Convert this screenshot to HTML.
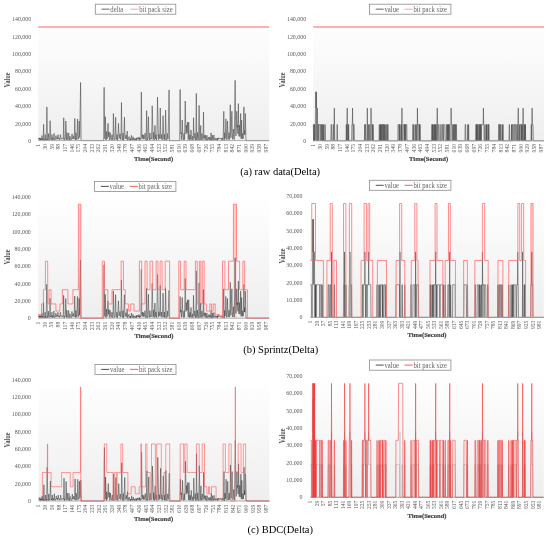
<!DOCTYPE html><html><head><meta charset="utf-8"><title>Charts</title><style>html,body{margin:0;padding:0;background:#fff;}body{width:550px;height:539px;overflow:hidden;}svg{display:block;filter:blur(0.3px);}</style></head><body><svg width="550" height="539" viewBox="0 0 550 539">
<defs><linearGradient id="pg" x1="0" y1="0" x2="0" y2="1"><stop offset="0" stop-color="#ffffff"/><stop offset="1" stop-color="#eeeeee"/></linearGradient></defs>
<rect width="550" height="539" fill="#fff"/>
<style>text{font-family:'Liberation Serif','Times New Roman',serif;} .yl{font-size:5.9px;fill:#595959;text-anchor:end;} .xl{font-size:5.6px;fill:#595959;text-anchor:end;} .at{font-size:6.3px;font-weight:bold;fill:#404040;stroke:#404040;stroke-width:0.14px;text-anchor:middle;} .lg{font-size:6.7px;fill:#666;} .av{stroke:none;fill:#505050;} .cap{font-size:10.5px;fill:#000;text-anchor:middle;}</style>
<rect x="38.20" y="19.15" width="231.00" height="121.45" fill="url(#pg)"/>
<text x="31.20" y="143.20" class="yl">0</text>
<text x="31.20" y="125.76" class="yl">20,000</text>
<text x="31.20" y="108.31" class="yl">40,000</text>
<text x="31.20" y="90.87" class="yl">60,000</text>
<text x="31.20" y="73.43" class="yl">80,000</text>
<text x="31.20" y="55.99" class="yl">100,000</text>
<text x="31.20" y="38.54" class="yl">120,000</text>
<text x="31.20" y="21.10" class="yl">140,000</text>
<text class="xl" transform="translate(40.12,144.00) rotate(-90)">1</text>
<text class="xl" transform="translate(46.81,144.00) rotate(-90)">30</text>
<text class="xl" transform="translate(53.51,144.00) rotate(-90)">59</text>
<text class="xl" transform="translate(60.21,144.00) rotate(-90)">88</text>
<text class="xl" transform="translate(66.91,144.00) rotate(-90)">117</text>
<text class="xl" transform="translate(73.61,144.00) rotate(-90)">146</text>
<text class="xl" transform="translate(80.31,144.00) rotate(-90)">175</text>
<text class="xl" transform="translate(87.01,144.00) rotate(-90)">204</text>
<text class="xl" transform="translate(93.71,144.00) rotate(-90)">233</text>
<text class="xl" transform="translate(100.41,144.00) rotate(-90)">262</text>
<text class="xl" transform="translate(107.11,144.00) rotate(-90)">291</text>
<text class="xl" transform="translate(113.80,144.00) rotate(-90)">320</text>
<text class="xl" transform="translate(120.50,144.00) rotate(-90)">349</text>
<text class="xl" transform="translate(127.20,144.00) rotate(-90)">378</text>
<text class="xl" transform="translate(133.90,144.00) rotate(-90)">407</text>
<text class="xl" transform="translate(140.60,144.00) rotate(-90)">436</text>
<text class="xl" transform="translate(147.30,144.00) rotate(-90)">465</text>
<text class="xl" transform="translate(154.00,144.00) rotate(-90)">494</text>
<text class="xl" transform="translate(160.70,144.00) rotate(-90)">523</text>
<text class="xl" transform="translate(167.40,144.00) rotate(-90)">552</text>
<text class="xl" transform="translate(174.10,144.00) rotate(-90)">581</text>
<text class="xl" transform="translate(180.79,144.00) rotate(-90)">610</text>
<text class="xl" transform="translate(187.49,144.00) rotate(-90)">639</text>
<text class="xl" transform="translate(194.19,144.00) rotate(-90)">668</text>
<text class="xl" transform="translate(200.89,144.00) rotate(-90)">697</text>
<text class="xl" transform="translate(207.59,144.00) rotate(-90)">726</text>
<text class="xl" transform="translate(214.29,144.00) rotate(-90)">755</text>
<text class="xl" transform="translate(220.99,144.00) rotate(-90)">784</text>
<text class="xl" transform="translate(227.69,144.00) rotate(-90)">813</text>
<text class="xl" transform="translate(234.39,144.00) rotate(-90)">842</text>
<text class="xl" transform="translate(241.09,144.00) rotate(-90)">871</text>
<text class="xl" transform="translate(247.78,144.00) rotate(-90)">900</text>
<text class="xl" transform="translate(254.48,144.00) rotate(-90)">929</text>
<text class="xl" transform="translate(261.18,144.00) rotate(-90)">958</text>
<text class="xl" transform="translate(267.88,144.00) rotate(-90)">987</text>
<text class="at av" transform="translate(10.20,80.00) rotate(-90) scale(1,1.15)">Value</text>
<text class="at" transform="translate(153.60,160.60) scale(1.05,1.13)">Time(Second)</text>
<rect x="313.20" y="19.35" width="230.80" height="121.45" fill="url(#pg)"/>
<text x="306.10" y="143.10" class="yl">0</text>
<text x="306.10" y="125.67" class="yl">20,000</text>
<text x="306.10" y="108.24" class="yl">40,000</text>
<text x="306.10" y="90.81" class="yl">60,000</text>
<text x="306.10" y="73.39" class="yl">80,000</text>
<text x="306.10" y="55.96" class="yl">100,000</text>
<text x="306.10" y="38.53" class="yl">120,000</text>
<text x="306.10" y="21.10" class="yl">140,000</text>
<text class="xl" transform="translate(315.12,144.00) rotate(-90)">1</text>
<text class="xl" transform="translate(321.81,144.00) rotate(-90)">30</text>
<text class="xl" transform="translate(328.50,144.00) rotate(-90)">59</text>
<text class="xl" transform="translate(335.19,144.00) rotate(-90)">88</text>
<text class="xl" transform="translate(341.89,144.00) rotate(-90)">117</text>
<text class="xl" transform="translate(348.58,144.00) rotate(-90)">146</text>
<text class="xl" transform="translate(355.27,144.00) rotate(-90)">175</text>
<text class="xl" transform="translate(361.97,144.00) rotate(-90)">204</text>
<text class="xl" transform="translate(368.66,144.00) rotate(-90)">233</text>
<text class="xl" transform="translate(375.35,144.00) rotate(-90)">262</text>
<text class="xl" transform="translate(382.05,144.00) rotate(-90)">291</text>
<text class="xl" transform="translate(388.74,144.00) rotate(-90)">320</text>
<text class="xl" transform="translate(395.43,144.00) rotate(-90)">349</text>
<text class="xl" transform="translate(402.13,144.00) rotate(-90)">378</text>
<text class="xl" transform="translate(408.82,144.00) rotate(-90)">407</text>
<text class="xl" transform="translate(415.51,144.00) rotate(-90)">436</text>
<text class="xl" transform="translate(422.21,144.00) rotate(-90)">465</text>
<text class="xl" transform="translate(428.90,144.00) rotate(-90)">494</text>
<text class="xl" transform="translate(435.59,144.00) rotate(-90)">523</text>
<text class="xl" transform="translate(442.29,144.00) rotate(-90)">552</text>
<text class="xl" transform="translate(448.98,144.00) rotate(-90)">581</text>
<text class="xl" transform="translate(455.67,144.00) rotate(-90)">610</text>
<text class="xl" transform="translate(462.37,144.00) rotate(-90)">639</text>
<text class="xl" transform="translate(469.06,144.00) rotate(-90)">668</text>
<text class="xl" transform="translate(475.75,144.00) rotate(-90)">697</text>
<text class="xl" transform="translate(482.45,144.00) rotate(-90)">726</text>
<text class="xl" transform="translate(489.14,144.00) rotate(-90)">755</text>
<text class="xl" transform="translate(495.83,144.00) rotate(-90)">784</text>
<text class="xl" transform="translate(502.53,144.00) rotate(-90)">813</text>
<text class="xl" transform="translate(509.22,144.00) rotate(-90)">842</text>
<text class="xl" transform="translate(515.91,144.00) rotate(-90)">871</text>
<text class="xl" transform="translate(522.60,144.00) rotate(-90)">900</text>
<text class="xl" transform="translate(529.30,144.00) rotate(-90)">929</text>
<text class="xl" transform="translate(535.99,144.00) rotate(-90)">958</text>
<text class="xl" transform="translate(542.68,144.00) rotate(-90)">987</text>
<text class="at av" transform="translate(285.20,80.00) rotate(-90) scale(1,1.15)">Value</text>
<text class="at" transform="translate(428.60,160.80) scale(1.05,1.13)">Time(Second)</text>
<rect x="38.10" y="196.40" width="231.10" height="121.80" fill="url(#pg)"/>
<text x="30.80" y="320.20" class="yl">0</text>
<text x="30.80" y="302.87" class="yl">20,000</text>
<text x="30.80" y="285.54" class="yl">40,000</text>
<text x="30.80" y="268.21" class="yl">60,000</text>
<text x="30.80" y="250.89" class="yl">80,000</text>
<text x="30.80" y="233.56" class="yl">100,000</text>
<text x="30.80" y="216.23" class="yl">120,000</text>
<text x="30.80" y="198.90" class="yl">140,000</text>
<text class="xl" transform="translate(40.02,321.80) rotate(-90)">1</text>
<text class="xl" transform="translate(46.72,321.80) rotate(-90)">30</text>
<text class="xl" transform="translate(53.42,321.80) rotate(-90)">59</text>
<text class="xl" transform="translate(60.12,321.80) rotate(-90)">88</text>
<text class="xl" transform="translate(66.82,321.80) rotate(-90)">117</text>
<text class="xl" transform="translate(73.53,321.80) rotate(-90)">146</text>
<text class="xl" transform="translate(80.23,321.80) rotate(-90)">175</text>
<text class="xl" transform="translate(86.93,321.80) rotate(-90)">204</text>
<text class="xl" transform="translate(93.63,321.80) rotate(-90)">233</text>
<text class="xl" transform="translate(100.33,321.80) rotate(-90)">262</text>
<text class="xl" transform="translate(107.03,321.80) rotate(-90)">291</text>
<text class="xl" transform="translate(113.74,321.80) rotate(-90)">320</text>
<text class="xl" transform="translate(120.44,321.80) rotate(-90)">349</text>
<text class="xl" transform="translate(127.14,321.80) rotate(-90)">378</text>
<text class="xl" transform="translate(133.84,321.80) rotate(-90)">407</text>
<text class="xl" transform="translate(140.54,321.80) rotate(-90)">436</text>
<text class="xl" transform="translate(147.25,321.80) rotate(-90)">465</text>
<text class="xl" transform="translate(153.95,321.80) rotate(-90)">494</text>
<text class="xl" transform="translate(160.65,321.80) rotate(-90)">523</text>
<text class="xl" transform="translate(167.35,321.80) rotate(-90)">552</text>
<text class="xl" transform="translate(174.05,321.80) rotate(-90)">581</text>
<text class="xl" transform="translate(180.76,321.80) rotate(-90)">610</text>
<text class="xl" transform="translate(187.46,321.80) rotate(-90)">639</text>
<text class="xl" transform="translate(194.16,321.80) rotate(-90)">668</text>
<text class="xl" transform="translate(200.86,321.80) rotate(-90)">697</text>
<text class="xl" transform="translate(207.56,321.80) rotate(-90)">726</text>
<text class="xl" transform="translate(214.26,321.80) rotate(-90)">755</text>
<text class="xl" transform="translate(220.97,321.80) rotate(-90)">784</text>
<text class="xl" transform="translate(227.67,321.80) rotate(-90)">813</text>
<text class="xl" transform="translate(234.37,321.80) rotate(-90)">842</text>
<text class="xl" transform="translate(241.07,321.80) rotate(-90)">871</text>
<text class="xl" transform="translate(247.77,321.80) rotate(-90)">900</text>
<text class="xl" transform="translate(254.48,321.80) rotate(-90)">929</text>
<text class="xl" transform="translate(261.18,321.80) rotate(-90)">958</text>
<text class="xl" transform="translate(267.88,321.80) rotate(-90)">987</text>
<text class="at av" transform="translate(10.10,257.00) rotate(-90) scale(1,1.15)">Value</text>
<text class="at" transform="translate(154.00,338.40) scale(1.05,1.13)">Time(Second)</text>
<rect x="310.10" y="195.74" width="233.70" height="121.66" fill="url(#pg)"/>
<text x="302.50" y="319.40" class="yl">0</text>
<text x="302.50" y="302.06" class="yl">10,000</text>
<text x="302.50" y="284.71" class="yl">20,000</text>
<text x="302.50" y="267.37" class="yl">30,000</text>
<text x="302.50" y="250.03" class="yl">40,000</text>
<text x="302.50" y="232.69" class="yl">50,000</text>
<text x="302.50" y="215.34" class="yl">60,000</text>
<text x="302.50" y="198.00" class="yl">70,000</text>
<text class="xl" transform="translate(312.02,320.60) rotate(-90)">1</text>
<text class="xl" transform="translate(318.56,320.60) rotate(-90)">29</text>
<text class="xl" transform="translate(325.10,320.60) rotate(-90)">57</text>
<text class="xl" transform="translate(331.65,320.60) rotate(-90)">85</text>
<text class="xl" transform="translate(338.19,320.60) rotate(-90)">113</text>
<text class="xl" transform="translate(344.73,320.60) rotate(-90)">141</text>
<text class="xl" transform="translate(351.28,320.60) rotate(-90)">169</text>
<text class="xl" transform="translate(357.82,320.60) rotate(-90)">197</text>
<text class="xl" transform="translate(364.37,320.60) rotate(-90)">225</text>
<text class="xl" transform="translate(370.91,320.60) rotate(-90)">253</text>
<text class="xl" transform="translate(377.45,320.60) rotate(-90)">281</text>
<text class="xl" transform="translate(384.00,320.60) rotate(-90)">309</text>
<text class="xl" transform="translate(390.54,320.60) rotate(-90)">337</text>
<text class="xl" transform="translate(397.08,320.60) rotate(-90)">365</text>
<text class="xl" transform="translate(403.63,320.60) rotate(-90)">393</text>
<text class="xl" transform="translate(410.17,320.60) rotate(-90)">421</text>
<text class="xl" transform="translate(416.71,320.60) rotate(-90)">449</text>
<text class="xl" transform="translate(423.26,320.60) rotate(-90)">477</text>
<text class="xl" transform="translate(429.80,320.60) rotate(-90)">505</text>
<text class="xl" transform="translate(436.35,320.60) rotate(-90)">533</text>
<text class="xl" transform="translate(442.89,320.60) rotate(-90)">561</text>
<text class="xl" transform="translate(449.43,320.60) rotate(-90)">589</text>
<text class="xl" transform="translate(455.98,320.60) rotate(-90)">617</text>
<text class="xl" transform="translate(462.52,320.60) rotate(-90)">645</text>
<text class="xl" transform="translate(469.06,320.60) rotate(-90)">673</text>
<text class="xl" transform="translate(475.61,320.60) rotate(-90)">701</text>
<text class="xl" transform="translate(482.15,320.60) rotate(-90)">729</text>
<text class="xl" transform="translate(488.69,320.60) rotate(-90)">757</text>
<text class="xl" transform="translate(495.24,320.60) rotate(-90)">785</text>
<text class="xl" transform="translate(501.78,320.60) rotate(-90)">813</text>
<text class="xl" transform="translate(508.32,320.60) rotate(-90)">841</text>
<text class="xl" transform="translate(514.87,320.60) rotate(-90)">869</text>
<text class="xl" transform="translate(521.41,320.60) rotate(-90)">897</text>
<text class="xl" transform="translate(527.96,320.60) rotate(-90)">925</text>
<text class="xl" transform="translate(534.50,320.60) rotate(-90)">953</text>
<text class="xl" transform="translate(541.04,320.60) rotate(-90)">981</text>
<text class="at av" transform="translate(285.10,256.00) rotate(-90) scale(1,1.15)">Value</text>
<text class="at" transform="translate(427.00,336.70) scale(1.05,1.13)">Time(Second)</text>
<rect x="38.50" y="379.20" width="230.90" height="121.80" fill="url(#pg)"/>
<text x="30.90" y="503.20" class="yl">0</text>
<text x="30.90" y="485.84" class="yl">20,000</text>
<text x="30.90" y="468.49" class="yl">40,000</text>
<text x="30.90" y="451.13" class="yl">60,000</text>
<text x="30.90" y="433.77" class="yl">80,000</text>
<text x="30.90" y="416.41" class="yl">100,000</text>
<text x="30.90" y="399.06" class="yl">120,000</text>
<text x="30.90" y="381.70" class="yl">140,000</text>
<text class="xl" transform="translate(40.42,504.60) rotate(-90)">1</text>
<text class="xl" transform="translate(47.11,504.60) rotate(-90)">30</text>
<text class="xl" transform="translate(53.81,504.60) rotate(-90)">59</text>
<text class="xl" transform="translate(60.50,504.60) rotate(-90)">88</text>
<text class="xl" transform="translate(67.20,504.60) rotate(-90)">117</text>
<text class="xl" transform="translate(73.90,504.60) rotate(-90)">146</text>
<text class="xl" transform="translate(80.59,504.60) rotate(-90)">175</text>
<text class="xl" transform="translate(87.29,504.60) rotate(-90)">204</text>
<text class="xl" transform="translate(93.98,504.60) rotate(-90)">233</text>
<text class="xl" transform="translate(100.68,504.60) rotate(-90)">262</text>
<text class="xl" transform="translate(107.38,504.60) rotate(-90)">291</text>
<text class="xl" transform="translate(114.07,504.60) rotate(-90)">320</text>
<text class="xl" transform="translate(120.77,504.60) rotate(-90)">349</text>
<text class="xl" transform="translate(127.46,504.60) rotate(-90)">378</text>
<text class="xl" transform="translate(134.16,504.60) rotate(-90)">407</text>
<text class="xl" transform="translate(140.86,504.60) rotate(-90)">436</text>
<text class="xl" transform="translate(147.55,504.60) rotate(-90)">465</text>
<text class="xl" transform="translate(154.25,504.60) rotate(-90)">494</text>
<text class="xl" transform="translate(160.95,504.60) rotate(-90)">523</text>
<text class="xl" transform="translate(167.64,504.60) rotate(-90)">552</text>
<text class="xl" transform="translate(174.34,504.60) rotate(-90)">581</text>
<text class="xl" transform="translate(181.03,504.60) rotate(-90)">610</text>
<text class="xl" transform="translate(187.73,504.60) rotate(-90)">639</text>
<text class="xl" transform="translate(194.43,504.60) rotate(-90)">668</text>
<text class="xl" transform="translate(201.12,504.60) rotate(-90)">697</text>
<text class="xl" transform="translate(207.82,504.60) rotate(-90)">726</text>
<text class="xl" transform="translate(214.51,504.60) rotate(-90)">755</text>
<text class="xl" transform="translate(221.21,504.60) rotate(-90)">784</text>
<text class="xl" transform="translate(227.91,504.60) rotate(-90)">813</text>
<text class="xl" transform="translate(234.60,504.60) rotate(-90)">842</text>
<text class="xl" transform="translate(241.30,504.60) rotate(-90)">871</text>
<text class="xl" transform="translate(247.99,504.60) rotate(-90)">900</text>
<text class="xl" transform="translate(254.69,504.60) rotate(-90)">929</text>
<text class="xl" transform="translate(261.39,504.60) rotate(-90)">958</text>
<text class="xl" transform="translate(268.08,504.60) rotate(-90)">987</text>
<text class="at av" transform="translate(10.30,440.00) rotate(-90) scale(1,1.15)">Value</text>
<text class="at" transform="translate(153.60,520.60) scale(1.05,1.13)">Time(Second)</text>
<rect x="310.10" y="375.64" width="233.70" height="121.66" fill="url(#pg)"/>
<text x="302.50" y="499.40" class="yl">0</text>
<text x="302.50" y="482.06" class="yl">10,000</text>
<text x="302.50" y="464.71" class="yl">20,000</text>
<text x="302.50" y="447.37" class="yl">30,000</text>
<text x="302.50" y="430.03" class="yl">40,000</text>
<text x="302.50" y="412.69" class="yl">50,000</text>
<text x="302.50" y="395.34" class="yl">60,000</text>
<text x="302.50" y="378.00" class="yl">70,000</text>
<text class="xl" transform="translate(312.02,500.60) rotate(-90)">1</text>
<text class="xl" transform="translate(318.56,500.60) rotate(-90)">29</text>
<text class="xl" transform="translate(325.10,500.60) rotate(-90)">57</text>
<text class="xl" transform="translate(331.65,500.60) rotate(-90)">85</text>
<text class="xl" transform="translate(338.19,500.60) rotate(-90)">113</text>
<text class="xl" transform="translate(344.73,500.60) rotate(-90)">141</text>
<text class="xl" transform="translate(351.28,500.60) rotate(-90)">169</text>
<text class="xl" transform="translate(357.82,500.60) rotate(-90)">197</text>
<text class="xl" transform="translate(364.37,500.60) rotate(-90)">225</text>
<text class="xl" transform="translate(370.91,500.60) rotate(-90)">253</text>
<text class="xl" transform="translate(377.45,500.60) rotate(-90)">281</text>
<text class="xl" transform="translate(384.00,500.60) rotate(-90)">309</text>
<text class="xl" transform="translate(390.54,500.60) rotate(-90)">337</text>
<text class="xl" transform="translate(397.08,500.60) rotate(-90)">365</text>
<text class="xl" transform="translate(403.63,500.60) rotate(-90)">393</text>
<text class="xl" transform="translate(410.17,500.60) rotate(-90)">421</text>
<text class="xl" transform="translate(416.71,500.60) rotate(-90)">449</text>
<text class="xl" transform="translate(423.26,500.60) rotate(-90)">477</text>
<text class="xl" transform="translate(429.80,500.60) rotate(-90)">505</text>
<text class="xl" transform="translate(436.35,500.60) rotate(-90)">533</text>
<text class="xl" transform="translate(442.89,500.60) rotate(-90)">561</text>
<text class="xl" transform="translate(449.43,500.60) rotate(-90)">589</text>
<text class="xl" transform="translate(455.98,500.60) rotate(-90)">617</text>
<text class="xl" transform="translate(462.52,500.60) rotate(-90)">645</text>
<text class="xl" transform="translate(469.06,500.60) rotate(-90)">673</text>
<text class="xl" transform="translate(475.61,500.60) rotate(-90)">701</text>
<text class="xl" transform="translate(482.15,500.60) rotate(-90)">729</text>
<text class="xl" transform="translate(488.69,500.60) rotate(-90)">757</text>
<text class="xl" transform="translate(495.24,500.60) rotate(-90)">785</text>
<text class="xl" transform="translate(501.78,500.60) rotate(-90)">813</text>
<text class="xl" transform="translate(508.32,500.60) rotate(-90)">841</text>
<text class="xl" transform="translate(514.87,500.60) rotate(-90)">869</text>
<text class="xl" transform="translate(521.41,500.60) rotate(-90)">897</text>
<text class="xl" transform="translate(527.96,500.60) rotate(-90)">925</text>
<text class="xl" transform="translate(534.50,500.60) rotate(-90)">953</text>
<text class="xl" transform="translate(541.04,500.60) rotate(-90)">981</text>
<text class="at av" transform="translate(285.10,436.00) rotate(-90) scale(1,1.15)">Value</text>
<text class="at" transform="translate(427.00,517.50) scale(1.05,1.13)">Time(Second)</text>
<polyline fill="none" stroke="#555555" stroke-width="0.65" stroke-linejoin="miter" stroke-miterlimit="2"  points="38.32,139.27 38.55,139.19 38.78,138.54 39.01,137.82 39.24,138.95 39.47,138.12 39.70,140.17 39.93,138.64 40.16,139.31 40.39,138.29 40.63,140.14 40.86,138.65 41.09,138.00 41.32,139.95 41.55,139.43 41.78,137.68 42.01,135.51 42.24,138.31 42.47,140.02 42.70,138.47 42.94,138.97 43.17,140.30 43.40,132.69 43.63,124.40 43.86,133.91 44.09,140.29 44.32,140.48 44.55,139.80 44.78,139.35 45.01,136.94 45.25,134.63 45.48,138.87 45.71,140.17 45.94,138.57 46.17,140.31 46.40,134.28 46.63,122.15 46.86,106.90 47.09,117.96 47.32,131.16 47.56,139.81 47.79,139.05 48.02,140.28 48.25,138.18 48.48,133.57 48.71,137.29 48.94,139.12 49.17,139.58 49.40,139.86 49.63,138.44 49.87,132.19 50.10,120.70 50.33,126.96 50.56,133.06 50.79,139.44 51.02,138.57 51.25,139.59 51.48,138.52 51.71,138.75 51.94,134.64 52.18,136.96 52.41,139.85 52.64,140.35 52.87,138.03 53.10,139.21 53.33,139.49 53.56,139.34 53.79,136.33 54.02,133.38 54.25,136.89 54.49,139.69 54.72,140.26 54.95,139.20 55.18,138.75 55.41,139.29 55.64,138.65 55.87,135.74 56.10,135.74 56.33,138.35 56.56,138.39 56.80,138.49 57.03,139.45 57.26,137.70 57.49,138.46 57.72,137.09 57.95,134.65 58.18,136.13 58.41,138.32 58.64,139.11 58.87,138.23 59.11,138.88 59.34,138.59 59.57,139.73 59.80,139.79 60.03,138.00 60.26,135.02 60.49,134.64 60.72,137.30 60.95,138.25 61.18,139.12 61.42,138.66 61.65,138.43 61.88,138.09 62.11,137.95 62.34,138.42 62.57,139.14 62.80,139.19 63.03,138.34 63.26,138.70 63.49,129.54 63.73,117.80 63.96,131.32 64.19,140.42 64.42,138.62 64.65,138.61 64.88,139.08 65.11,139.22 65.34,137.96 65.57,133.44 65.80,121.00 66.04,126.96 66.27,133.90 66.50,139.98 66.73,137.57 66.96,132.61 67.19,135.98 67.42,138.18 67.65,137.98 67.88,139.92 68.11,139.17 68.35,137.47 68.58,132.97 68.81,132.92 69.04,137.01 69.27,140.59 69.50,138.13 69.73,137.87 69.96,136.14 70.19,137.81 70.42,137.65 70.66,139.54 70.89,139.79 71.12,140.30 71.35,139.76 71.58,139.86 71.81,136.89 72.04,133.83 72.27,137.99 72.50,138.74 72.73,137.83 72.97,138.48 73.20,138.24 73.43,135.72 73.66,136.47 73.89,137.87 74.12,139.21 74.35,135.25 74.58,126.90 74.81,118.50 75.04,128.70 75.28,136.08 75.51,139.99 75.74,136.00 75.97,132.82 76.20,134.81 76.43,139.16 76.66,139.59 76.89,139.89 77.12,132.96 77.35,124.31 77.59,119.00 77.82,130.70 78.05,138.18 78.28,137.75 78.51,139.12 78.74,137.43 78.97,130.43 79.20,121.00 79.43,130.20 79.66,137.50 79.90,129.31 80.13,111.55 80.36,96.83 80.59,82.50 80.82,106.59 81.05,140.60 81.28,140.60 81.51,140.60 81.74,140.60 81.97,140.60 82.21,140.60 82.44,140.60 82.67,140.60 82.90,140.60 83.13,140.60 83.36,140.60 83.59,140.60 83.82,140.60 84.05,140.60 84.28,140.60 84.52,140.60 84.75,140.60 84.98,140.60 85.21,140.60 85.44,140.60 85.67,140.60 85.90,140.60 86.13,140.60 86.36,140.60 86.59,140.60 86.83,140.60 87.06,140.60 87.29,140.60 87.52,140.60 87.75,140.60 87.98,140.60 88.21,140.60 88.44,140.60 88.67,140.60 88.90,140.60 89.14,140.60 89.37,140.60 89.60,140.60 89.83,140.60 90.06,140.60 90.29,140.60 90.52,140.60 90.75,140.60 90.98,140.60 91.21,140.60 91.45,140.60 91.68,140.60 91.91,140.60 92.14,140.60 92.37,140.60 92.60,140.60 92.83,140.60 93.06,140.60 93.29,140.60 93.52,140.60 93.76,140.60 93.99,140.60 94.22,140.60 94.45,140.60 94.68,140.60 94.91,140.60 95.14,140.60 95.37,140.60 95.60,140.60 95.83,140.60 96.07,140.60 96.30,140.60 96.53,140.60 96.76,140.60 96.99,140.60 97.22,140.60 97.45,140.60 97.68,140.60 97.91,140.60 98.14,140.60 98.38,140.60 98.61,140.60 98.84,140.60 99.07,140.60 99.30,140.60 99.53,140.60 99.76,140.60 99.99,140.60 100.22,140.60 100.45,140.60 100.69,140.60 100.92,140.60 101.15,140.60 101.38,140.60 101.61,140.60 101.84,140.60 102.07,140.60 102.30,140.60 102.53,140.60 102.76,140.60 103.00,140.60 103.23,140.60 103.46,140.60 103.69,140.60 103.92,101.20 104.15,87.30 104.38,111.79 104.61,125.06 104.84,138.69 105.07,131.74 105.31,116.70 105.54,123.45 105.77,133.40 106.00,140.22 106.23,136.34 106.46,131.48 106.69,135.07 106.92,139.03 107.15,138.83 107.38,136.92 107.62,132.15 107.85,127.29 108.08,123.30 108.31,131.03 108.54,134.94 108.77,136.91 109.00,131.87 109.23,136.81 109.46,139.93 109.69,139.60 109.93,137.98 110.16,132.65 110.39,135.61 110.62,137.74 110.85,138.18 111.08,139.95 111.31,139.73 111.54,139.14 111.77,137.06 112.00,134.56 112.24,136.70 112.47,139.47 112.70,140.18 112.93,140.42 113.16,133.22 113.39,113.50 113.62,120.28 113.85,133.90 114.08,138.40 114.31,138.64 114.55,139.50 114.78,140.06 115.01,138.12 115.24,131.38 115.47,124.41 115.70,117.20 115.93,129.59 116.16,137.96 116.39,139.50 116.62,138.02 116.86,135.05 117.09,134.60 117.32,137.20 117.55,140.50 117.78,137.89 118.01,135.01 118.24,129.29 118.47,123.30 118.70,128.61 118.93,133.39 119.17,138.52 119.40,137.90 119.63,137.40 119.86,134.89 120.09,133.75 120.32,136.50 120.55,139.33 120.78,137.86 121.01,136.17 121.24,120.67 121.48,102.50 121.71,118.96 121.94,133.03 122.17,140.02 122.40,139.87 122.63,138.28 122.86,134.35 123.09,133.12 123.32,137.11 123.55,140.32 123.79,138.41 124.02,131.18 124.25,124.01 124.48,117.20 124.71,128.09 124.94,136.34 125.17,138.93 125.40,138.42 125.63,138.29 125.86,135.96 126.10,135.01 126.33,137.83 126.56,139.10 126.79,138.22 127.02,133.34 127.25,131.18 127.48,135.59 127.71,140.48 127.94,140.25 128.17,137.73 128.41,137.86 128.64,138.05 128.87,137.33 129.10,136.65 129.33,138.84 129.56,139.96 129.79,140.18 130.02,139.85 130.25,138.68 130.48,140.43 130.72,138.60 130.95,139.68 131.18,137.66 131.41,135.39 131.64,137.86 131.87,138.71 132.10,140.12 132.33,139.39 132.56,139.57 132.79,137.77 133.03,136.70 133.26,138.05 133.49,139.53 133.72,138.45 133.95,140.34 134.18,139.35 134.41,139.40 134.64,139.24 134.87,138.45 135.10,138.16 135.34,139.68 135.57,139.51 135.80,140.16 136.03,139.06 136.26,140.28 136.49,138.23 136.72,139.78 136.95,137.66 137.18,138.73 137.41,137.87 137.65,137.93 137.88,138.17 138.11,138.28 138.34,139.41 138.57,138.15 138.80,138.67 139.03,136.90 139.26,139.24 139.49,138.46 139.72,140.48 139.96,138.37 140.19,138.13 140.42,138.83 140.65,138.75 140.88,139.36 141.11,123.11 141.34,92.00 141.57,112.43 141.80,134.13 142.03,138.35 142.27,136.54 142.50,134.43 142.73,136.89 142.96,139.27 143.19,139.10 143.42,136.95 143.65,134.97 143.88,138.24 144.11,139.11 144.34,137.80 144.58,138.07 144.81,135.06 145.04,133.18 145.27,136.07 145.50,137.90 145.73,138.27 145.96,140.41 146.19,137.88 146.42,124.60 146.65,110.60 146.89,130.93 147.12,139.99 147.35,139.11 147.58,139.74 147.81,138.05 148.04,130.58 148.27,121.92 148.50,116.70 148.73,130.27 148.96,138.03 149.20,138.89 149.43,139.97 149.66,136.09 149.89,132.97 150.12,133.25 150.35,136.49 150.58,139.30 150.81,138.41 151.04,138.18 151.27,138.71 151.51,138.87 151.74,131.00 151.97,123.40 152.20,105.80 152.43,113.95 152.66,121.89 152.89,132.74 153.12,139.40 153.35,133.78 153.58,132.28 153.82,137.74 154.05,138.76 154.28,140.20 154.51,135.28 154.74,130.91 154.97,125.50 155.20,133.24 155.43,138.94 155.66,137.18 155.89,134.60 156.13,134.75 156.36,137.38 156.59,140.28 156.82,136.98 157.05,126.78 157.28,114.20 157.51,97.10 157.74,108.99 157.97,117.47 158.20,128.43 158.44,139.59 158.67,139.31 158.90,134.20 159.13,134.91 159.36,138.40 159.59,138.41 159.82,138.06 160.05,125.73 160.28,108.00 160.51,122.09 160.75,135.88 160.98,138.97 161.21,137.77 161.44,134.40 161.67,135.87 161.90,138.00 162.13,139.83 162.36,138.41 162.59,134.06 162.82,127.12 163.06,115.60 163.29,122.63 163.52,131.22 163.75,139.17 163.98,138.54 164.21,139.31 164.44,134.44 164.67,137.11 164.90,140.37 165.13,138.44 165.37,128.89 165.60,110.20 165.83,119.66 166.06,129.88 166.29,138.54 166.52,140.31 166.75,139.53 166.98,138.18 167.21,137.07 167.44,133.54 167.68,135.32 167.91,139.09 168.14,138.10 168.37,127.67 168.60,114.33 168.83,104.28 169.06,89.90 169.29,111.20 169.52,140.60 169.75,140.60 169.99,140.60 170.22,140.60 170.45,140.60 170.68,140.60 170.91,140.60 171.14,140.60 171.37,140.60 171.60,140.60 171.83,140.60 172.06,140.60 172.30,140.60 172.53,140.60 172.76,140.60 172.99,140.60 173.22,140.60 173.45,140.60 173.68,140.60 173.91,140.60 174.14,140.60 174.37,140.60 174.61,140.60 174.84,140.60 175.07,140.60 175.30,140.60 175.53,140.60 175.76,140.60 175.99,140.60 176.22,140.60 176.45,140.60 176.68,140.60 176.92,140.60 177.15,140.60 177.38,140.60 177.61,140.60 177.84,140.60 178.07,140.60 178.30,140.60 178.53,140.60 178.76,140.60 178.99,140.60 179.23,140.60 179.46,140.60 179.69,140.60 179.92,105.45 180.15,89.50 180.38,110.35 180.61,126.65 180.84,133.99 181.07,132.36 181.30,136.65 181.54,139.58 181.77,135.34 182.00,129.97 182.23,120.00 182.46,126.51 182.69,132.19 182.92,137.59 183.15,139.15 183.38,140.06 183.61,137.69 183.85,134.47 184.08,133.31 184.31,136.89 184.54,139.62 184.77,128.75 185.00,117.05 185.23,101.00 185.46,112.32 185.69,122.85 185.92,133.92 186.16,132.88 186.39,125.00 186.62,128.24 186.85,131.79 187.08,132.75 187.31,127.16 187.54,122.20 187.77,129.80 188.00,134.17 188.23,139.47 188.47,133.19 188.70,122.20 188.93,127.30 189.16,134.09 189.39,138.53 189.62,140.14 189.85,136.28 190.08,134.87 190.31,139.39 190.54,137.72 190.78,136.56 191.01,129.93 191.24,137.13 191.47,138.44 191.70,140.02 191.93,140.28 192.16,139.45 192.39,136.54 192.62,136.25 192.85,138.73 193.09,140.18 193.32,131.54 193.55,117.80 193.78,127.33 194.01,136.97 194.24,138.47 194.47,138.32 194.70,138.09 194.93,133.24 195.16,135.85 195.40,140.31 195.63,138.29 195.86,138.74 196.09,120.01 196.32,93.40 196.55,123.49 196.78,140.06 197.01,138.30 197.24,138.06 197.47,132.46 197.71,136.89 197.94,137.83 198.17,140.30 198.40,139.00 198.63,134.06 198.86,120.96 199.09,105.40 199.32,118.99 199.55,133.12 199.78,140.24 200.02,139.55 200.25,138.35 200.48,130.80 200.71,125.50 200.94,137.63 201.17,139.94 201.40,137.83 201.63,137.83 201.86,133.63 202.09,133.59 202.33,136.98 202.56,139.22 202.79,139.93 203.02,139.56 203.25,127.54 203.48,112.00 203.71,126.19 203.94,138.14 204.17,138.09 204.40,135.20 204.64,135.82 204.87,139.34 205.10,139.77 205.33,138.91 205.56,135.22 205.79,137.49 206.02,137.86 206.25,140.43 206.48,137.93 206.71,137.38 206.95,135.27 207.18,136.90 207.41,138.42 207.64,140.30 207.87,139.91 208.10,139.58 208.33,137.93 208.56,137.06 208.79,138.81 209.02,138.63 209.26,138.28 209.49,140.02 209.72,139.03 209.95,136.90 210.18,138.30 210.41,139.91 210.64,139.15 210.87,137.02 211.10,132.86 211.33,136.88 211.57,140.58 211.80,139.22 212.03,138.64 212.26,138.35 212.49,135.33 212.72,138.34 212.95,140.52 213.18,138.59 213.41,139.15 213.64,136.81 213.88,134.95 214.11,136.93 214.34,138.75 214.57,139.52 214.80,139.05 215.03,139.98 215.26,139.35 215.49,138.16 215.72,138.16 215.95,139.11 216.19,139.11 216.42,138.67 216.65,139.62 216.88,139.72 217.11,138.73 217.34,140.48 217.57,137.99 217.80,139.56 218.03,138.56 218.26,137.88 218.50,138.66 218.73,137.92 218.96,138.78 219.19,138.55 219.42,138.59 219.65,138.63 219.88,138.35 220.11,138.52 220.34,138.32 220.57,138.67 220.81,138.17 221.04,138.94 221.27,139.71 221.50,139.66 221.73,138.71 221.96,138.01 222.19,138.87 222.42,138.21 222.65,137.89 222.88,140.33 223.12,138.85 223.35,130.70 223.58,119.77 223.81,111.30 224.04,131.11 224.27,140.59 224.50,138.34 224.73,132.69 224.96,135.08 225.19,138.48 225.43,133.18 225.66,127.55 225.89,118.90 226.12,125.38 226.35,132.77 226.58,138.13 226.81,139.85 227.04,134.58 227.27,129.62 227.50,121.00 227.74,129.72 227.97,135.05 228.20,139.17 228.43,139.52 228.66,138.14 228.89,132.61 229.12,132.75 229.35,138.40 229.58,139.46 229.81,137.81 230.05,122.90 230.28,104.70 230.51,119.14 230.74,135.18 230.97,137.72 231.20,133.69 231.43,126.58 231.66,116.80 231.89,111.30 232.12,123.59 232.36,132.82 232.59,139.35 232.82,137.98 233.05,137.66 233.28,133.24 233.51,129.13 233.74,134.24 233.97,138.10 234.20,139.58 234.43,132.50 234.67,114.36 234.90,97.54 235.13,80.30 235.36,102.04 235.59,120.47 235.82,135.61 236.05,135.97 236.28,130.70 236.51,124.03 236.74,111.30 236.98,119.41 237.21,127.18 237.44,125.00 237.67,129.01 237.90,133.71 238.13,124.05 238.36,103.60 238.59,119.47 238.82,134.08 239.05,136.24 239.29,131.14 239.52,125.00 239.75,130.91 239.98,136.72 240.21,132.72 240.44,122.64 240.67,113.50 240.90,127.70 241.13,138.74 241.36,132.45 241.60,120.00 241.83,131.06 242.06,137.92 242.29,138.84 242.52,137.97 242.75,133.30 242.98,136.12 243.21,138.62 243.44,130.36 243.67,118.05 243.91,106.90 244.14,129.88 244.37,134.42 244.60,129.97 244.83,134.69 245.06,128.82 245.29,113.50 245.52,121.63 245.75,129.00 245.98,140.60 246.22,140.60 246.45,140.60 246.68,140.60 246.91,140.60 247.14,140.60 247.37,140.60 247.60,140.60 247.83,140.60 248.06,140.60 248.29,140.60 248.53,140.60 248.76,140.60 248.99,140.60 249.22,140.60 249.45,140.60 249.68,140.60 249.91,140.60 250.14,140.60 250.37,140.60 250.60,140.60 250.84,140.60 251.07,140.60 251.30,140.60 251.53,140.60 251.76,140.60 251.99,140.60 252.22,140.60 252.45,140.60 252.68,140.60 252.91,140.60 253.15,140.60 253.38,140.60 253.61,140.60 253.84,140.60 254.07,140.60 254.30,140.60 254.53,140.60 254.76,140.60 254.99,140.60 255.22,140.60 255.46,140.60 255.69,140.60 255.92,140.60 256.15,140.60 256.38,140.60 256.61,140.60 256.84,140.60 257.07,140.60 257.30,140.60 257.53,140.60 257.77,140.60 258.00,140.60 258.23,140.60 258.46,140.60 258.69,140.60 258.92,140.60 259.15,140.60 259.38,140.60 259.61,140.60 259.84,140.60 260.08,140.60 260.31,140.60 260.54,140.60 260.77,140.60 261.00,140.60 261.23,140.60 261.46,140.60 261.69,140.60 261.92,140.60 262.15,140.60 262.39,140.60 262.62,140.60 262.85,140.60 263.08,140.60 263.31,140.60 263.54,140.60 263.77,140.60 264.00,140.60 264.23,140.60 264.46,140.60 264.70,140.60 264.93,140.60 265.16,140.60 265.39,140.60 265.62,140.60 265.85,140.60 266.08,140.60 266.31,140.60 266.54,140.60 266.77,140.60 267.01,140.60 267.24,140.60 267.47,140.60 267.70,140.60 267.93,140.60 268.16,140.60 268.39,140.60 268.62,140.60 268.85,140.60 269.08,140.60"/>
<line x1="38.20" y1="140.60" x2="269.20" y2="140.60" stroke="#9a9a9a" stroke-width="0.8"/>
<line x1="38.20" y1="27.00" x2="269.20" y2="27.00" stroke="#ffb0b0" stroke-width="2"/>
<rect x="95.30" y="4.20" width="80.50" height="10.00" fill="#fff" stroke="#8c8c8c" stroke-width="0.8"/>
<line x1="101.50" y1="9.20" x2="109.50" y2="9.20" stroke="#8a8a8a" stroke-width="1.30"/>
<text class="lg" transform="translate(110.30,11.70) scale(1,1.1)">delta</text>
<line x1="130.30" y1="9.20" x2="138.50" y2="9.20" stroke="#ffaaaa" stroke-width="1.1"/>
<text class="lg" transform="translate(139.30,11.70) scale(1,1.1)">bit pack size</text>
<polyline fill="none" stroke="#4a4a4a" stroke-width="0.60" stroke-linejoin="miter" stroke-miterlimit="2"  points="313.32,124.49 313.55,140.80 313.78,124.49 314.01,124.49 314.24,124.49 314.47,140.80 314.70,124.49 314.93,124.49 315.16,140.80 315.39,124.49 315.62,108.10 315.85,91.79 316.08,108.10 316.32,91.79 316.55,108.10 316.78,140.80 317.01,108.10 317.24,108.10 317.47,108.10 317.70,140.80 317.93,140.80 318.16,124.49 318.39,124.49 318.62,124.49 318.85,140.80 319.09,124.49 319.32,124.49 319.55,124.49 319.78,124.49 320.01,124.49 320.24,124.49 320.47,124.49 320.70,140.80 320.93,140.80 321.16,124.49 321.39,124.49 321.62,124.49 321.85,140.80 322.09,124.49 322.32,140.80 322.55,140.80 322.78,124.49 323.01,124.49 323.24,140.80 323.47,140.80 323.70,124.49 323.93,140.80 324.16,140.80 324.39,140.80 324.62,140.80 324.86,140.80 325.09,124.49 325.32,140.80 325.55,140.80 325.78,140.80 326.01,140.80 326.24,140.80 326.47,140.80 326.70,140.80 326.93,140.80 327.16,140.80 327.39,140.80 327.62,140.80 327.86,140.80 328.09,140.80 328.32,140.80 328.55,140.80 328.78,140.80 329.01,140.80 329.24,140.80 329.47,140.80 329.70,140.80 329.93,140.80 330.16,140.80 330.39,140.80 330.63,140.80 330.86,140.80 331.09,124.49 331.32,124.49 331.55,124.49 331.78,140.80 332.01,140.80 332.24,140.80 332.47,140.80 332.70,140.80 332.93,140.80 333.16,124.49 333.39,124.49 333.63,124.49 333.86,140.80 334.09,124.49 334.32,108.10 334.55,124.49 334.78,140.80 335.01,140.80 335.24,140.80 335.47,140.80 335.70,140.80 335.93,140.80 336.16,140.80 336.40,140.80 336.63,140.80 336.86,140.80 337.09,124.49 337.32,124.49 337.55,140.80 337.78,140.80 338.01,140.80 338.24,140.80 338.47,140.80 338.70,140.80 338.93,140.80 339.16,140.80 339.40,140.80 339.63,140.80 339.86,140.80 340.09,140.80 340.32,140.80 340.55,140.80 340.78,140.80 341.01,140.80 341.24,140.80 341.47,140.80 341.70,140.80 341.93,140.80 342.17,140.80 342.40,140.80 342.63,140.80 342.86,140.80 343.09,140.80 343.32,140.80 343.55,140.80 343.78,140.80 344.01,140.80 344.24,140.80 344.47,140.80 344.70,140.80 344.94,140.80 345.17,140.80 345.40,140.80 345.63,140.80 345.86,140.80 346.09,140.80 346.32,124.49 346.55,140.80 346.78,124.49 347.01,124.49 347.24,108.10 347.47,140.80 347.70,140.80 347.94,124.49 348.17,124.49 348.40,140.80 348.63,124.49 348.86,140.80 349.09,140.80 349.32,140.80 349.55,140.80 349.78,140.80 350.01,140.80 350.24,140.80 350.47,140.80 350.70,140.80 350.94,140.80 351.17,140.80 351.40,140.80 351.63,140.80 351.86,124.49 352.09,124.49 352.32,124.49 352.55,108.10 352.78,124.49 353.01,124.49 353.24,140.80 353.47,124.49 353.71,124.49 353.94,124.49 354.17,124.49 354.40,140.80 354.63,140.80 354.86,140.80 355.09,140.80 355.32,140.80 355.55,140.80 355.78,140.80 356.01,140.80 356.24,140.80 356.47,140.80 356.71,140.80 356.94,140.80 357.17,140.80 357.40,140.80 357.63,140.80 357.86,140.80 358.09,140.80 358.32,140.80 358.55,140.80 358.78,140.80 359.01,140.80 359.24,140.80 359.48,140.80 359.71,140.80 359.94,140.80 360.17,140.80 360.40,140.80 360.63,140.80 360.86,140.80 361.09,140.80 361.32,140.80 361.55,140.80 361.78,140.80 362.01,140.80 362.25,140.80 362.48,140.80 362.71,140.80 362.94,140.80 363.17,140.80 363.40,140.80 363.63,140.80 363.86,140.80 364.09,140.80 364.32,140.80 364.55,140.80 364.78,124.49 365.01,140.80 365.25,124.49 365.48,124.49 365.71,124.49 365.94,140.80 366.17,140.80 366.40,140.80 366.63,140.80 366.86,140.80 367.09,140.80 367.32,108.10 367.55,140.80 367.78,140.80 368.01,140.80 368.25,140.80 368.48,124.49 368.71,140.80 368.94,140.80 369.17,140.80 369.40,140.80 369.63,124.49 369.86,124.49 370.09,124.49 370.32,140.80 370.55,140.80 370.78,140.80 371.02,108.10 371.25,124.49 371.48,124.49 371.71,124.49 371.94,140.80 372.17,140.80 372.40,140.80 372.63,124.49 372.86,140.80 373.09,124.49 373.32,140.80 373.55,140.80 373.78,140.80 374.02,140.80 374.25,140.80 374.48,140.80 374.71,140.80 374.94,140.80 375.17,140.80 375.40,140.80 375.63,140.80 375.86,140.80 376.09,140.80 376.32,140.80 376.55,140.80 376.79,140.80 377.02,140.80 377.25,140.80 377.48,140.80 377.71,140.80 377.94,140.80 378.17,140.80 378.40,140.80 378.63,140.80 378.86,140.80 379.09,140.80 379.32,124.49 379.56,140.80 379.79,140.80 380.02,140.80 380.25,124.49 380.48,140.80 380.71,124.49 380.94,140.80 381.17,140.80 381.40,124.49 381.63,140.80 381.86,140.80 382.09,124.49 382.32,124.49 382.56,124.49 382.79,140.80 383.02,124.49 383.25,124.49 383.48,140.80 383.71,124.49 383.94,124.49 384.17,124.49 384.40,140.80 384.63,124.49 384.86,140.80 385.09,140.80 385.32,140.80 385.56,140.80 385.79,124.49 386.02,140.80 386.25,140.80 386.48,140.80 386.71,140.80 386.94,124.49 387.17,140.80 387.40,140.80 387.63,124.49 387.86,124.49 388.09,124.49 388.33,140.80 388.56,140.80 388.79,140.80 389.02,140.80 389.25,140.80 389.48,140.80 389.71,140.80 389.94,140.80 390.17,140.80 390.40,140.80 390.63,140.80 390.86,140.80 391.09,140.80 391.33,140.80 391.56,140.80 391.79,140.80 392.02,140.80 392.25,140.80 392.48,140.80 392.71,140.80 392.94,140.80 393.17,140.80 393.40,140.80 393.63,140.80 393.86,140.80 394.10,140.80 394.33,140.80 394.56,140.80 394.79,140.80 395.02,140.80 395.25,140.80 395.48,140.80 395.71,140.80 395.94,140.80 396.17,140.80 396.40,140.80 396.63,140.80 396.87,140.80 397.10,140.80 397.33,140.80 397.56,140.80 397.79,140.80 398.02,124.49 398.25,124.49 398.48,124.49 398.71,124.49 398.94,124.49 399.17,140.80 399.40,124.49 399.63,140.80 399.87,140.80 400.10,124.49 400.33,140.80 400.56,140.80 400.79,140.80 401.02,140.80 401.25,140.80 401.48,124.49 401.71,140.80 401.94,108.10 402.17,140.80 402.40,140.80 402.63,140.80 402.87,140.80 403.10,140.80 403.33,124.49 403.56,124.49 403.79,124.49 404.02,124.49 404.25,124.49 404.48,140.80 404.71,124.49 404.94,140.80 405.17,124.49 405.40,124.49 405.64,140.80 405.87,140.80 406.10,124.49 406.33,124.49 406.56,124.49 406.79,124.49 407.02,140.80 407.25,140.80 407.48,140.80 407.71,140.80 407.94,140.80 408.17,140.80 408.40,140.80 408.64,140.80 408.87,140.80 409.10,140.80 409.33,140.80 409.56,140.80 409.79,140.80 410.02,140.80 410.25,140.80 410.48,140.80 410.71,140.80 410.94,140.80 411.17,140.80 411.41,140.80 411.64,140.80 411.87,140.80 412.10,140.80 412.33,140.80 412.56,140.80 412.79,124.49 413.02,124.49 413.25,124.49 413.48,140.80 413.71,140.80 413.94,124.49 414.17,140.80 414.41,140.80 414.64,140.80 414.87,140.80 415.10,140.80 415.33,140.80 415.56,124.49 415.79,140.80 416.02,140.80 416.25,140.80 416.48,140.80 416.71,124.49 416.94,140.80 417.18,140.80 417.41,108.10 417.64,124.49 417.87,124.49 418.10,124.49 418.33,124.49 418.56,124.49 418.79,140.80 419.02,140.80 419.25,140.80 419.48,124.49 419.71,140.80 419.94,124.49 420.18,124.49 420.41,140.80 420.64,140.80 420.87,140.80 421.10,140.80 421.33,140.80 421.56,140.80 421.79,140.80 422.02,140.80 422.25,140.80 422.48,140.80 422.71,140.80 422.95,140.80 423.18,140.80 423.41,140.80 423.64,140.80 423.87,140.80 424.10,140.80 424.33,140.80 424.56,140.80 424.79,140.80 425.02,140.80 425.25,140.80 425.48,140.80 425.71,140.80 425.95,140.80 426.18,140.80 426.41,140.80 426.64,140.80 426.87,140.80 427.10,140.80 427.33,140.80 427.56,140.80 427.79,140.80 428.02,140.80 428.25,140.80 428.48,140.80 428.72,140.80 428.95,140.80 429.18,140.80 429.41,140.80 429.64,140.80 429.87,140.80 430.10,140.80 430.33,140.80 430.56,140.80 430.79,140.80 431.02,140.80 431.25,140.80 431.49,140.80 431.72,124.49 431.95,124.49 432.18,124.49 432.41,140.80 432.64,124.49 432.87,140.80 433.10,124.49 433.33,140.80 433.56,140.80 433.79,140.80 434.02,124.49 434.25,124.49 434.49,140.80 434.72,124.49 434.95,140.80 435.18,140.80 435.41,140.80 435.64,124.49 435.87,140.80 436.10,124.49 436.33,140.80 436.56,140.80 436.79,140.80 437.02,124.49 437.25,108.10 437.49,124.49 437.72,140.80 437.95,140.80 438.18,140.80 438.41,124.49 438.64,124.49 438.87,124.49 439.10,124.49 439.33,140.80 439.56,140.80 439.79,140.80 440.02,140.80 440.26,140.80 440.49,140.80 440.72,124.49 440.95,124.49 441.18,124.49 441.41,140.80 441.64,140.80 441.87,140.80 442.10,140.80 442.33,140.80 442.56,124.49 442.79,124.49 443.02,124.49 443.26,140.80 443.49,140.80 443.72,124.49 443.95,124.49 444.18,124.49 444.41,124.49 444.64,124.49 444.87,124.49 445.10,140.80 445.33,140.80 445.56,140.80 445.79,140.80 446.03,140.80 446.26,140.80 446.49,124.49 446.72,124.49 446.95,140.80 447.18,140.80 447.41,124.49 447.64,140.80 447.87,140.80 448.10,124.49 448.33,140.80 448.56,124.49 448.79,124.49 449.03,140.80 449.26,124.49 449.49,124.49 449.72,140.80 449.95,140.80 450.18,140.80 450.41,140.80 450.64,140.80 450.87,140.80 451.10,108.10 451.33,124.49 451.56,124.49 451.80,124.49 452.03,124.49 452.26,140.80 452.49,140.80 452.72,140.80 452.95,124.49 453.18,140.80 453.41,140.80 453.64,140.80 453.87,124.49 454.10,140.80 454.33,124.49 454.56,124.49 454.80,124.49 455.03,140.80 455.26,124.49 455.49,124.49 455.72,140.80 455.95,140.80 456.18,124.49 456.41,124.49 456.64,140.80 456.87,140.80 457.10,140.80 457.33,140.80 457.57,140.80 457.80,140.80 458.03,140.80 458.26,140.80 458.49,140.80 458.72,140.80 458.95,140.80 459.18,140.80 459.41,140.80 459.64,140.80 459.87,140.80 460.10,140.80 460.33,140.80 460.57,140.80 460.80,140.80 461.03,140.80 461.26,140.80 461.49,140.80 461.72,140.80 461.95,140.80 462.18,140.80 462.41,140.80 462.64,140.80 462.87,140.80 463.10,140.80 463.34,140.80 463.57,140.80 463.80,140.80 464.03,140.80 464.26,140.80 464.49,140.80 464.72,140.80 464.95,140.80 465.18,124.49 465.41,124.49 465.64,124.49 465.87,140.80 466.11,140.80 466.34,140.80 466.57,140.80 466.80,140.80 467.03,140.80 467.26,140.80 467.49,140.80 467.72,124.49 467.95,140.80 468.18,140.80 468.41,140.80 468.64,124.49 468.87,140.80 469.11,140.80 469.34,140.80 469.57,140.80 469.80,140.80 470.03,140.80 470.26,140.80 470.49,140.80 470.72,140.80 470.95,140.80 471.18,140.80 471.41,140.80 471.64,140.80 471.88,140.80 472.11,140.80 472.34,140.80 472.57,140.80 472.80,140.80 473.03,140.80 473.26,140.80 473.49,140.80 473.72,140.80 473.95,140.80 474.18,140.80 474.41,140.80 474.64,140.80 474.88,140.80 475.11,140.80 475.34,140.80 475.57,140.80 475.80,140.80 476.03,124.49 476.26,140.80 476.49,124.49 476.72,140.80 476.95,124.49 477.18,124.49 477.41,140.80 477.64,124.49 477.88,124.49 478.11,124.49 478.34,140.80 478.57,140.80 478.80,124.49 479.03,124.49 479.26,124.49 479.49,140.80 479.72,124.49 479.95,140.80 480.18,140.80 480.41,124.49 480.65,140.80 480.88,124.49 481.11,140.80 481.34,140.80 481.57,124.49 481.80,124.49 482.03,124.49 482.26,124.49 482.49,124.49 482.72,124.49 482.95,124.49 483.18,124.49 483.41,108.10 483.65,124.49 483.88,124.49 484.11,140.80 484.34,140.80 484.57,140.80 484.80,140.80 485.03,124.49 485.26,140.80 485.49,140.80 485.72,140.80 485.95,140.80 486.18,140.80 486.42,124.49 486.65,140.80 486.88,124.49 487.11,140.80 487.34,140.80 487.57,140.80 487.80,140.80 488.03,124.49 488.26,124.49 488.49,140.80 488.72,124.49 488.95,124.49 489.19,140.80 489.42,140.80 489.65,140.80 489.88,140.80 490.11,140.80 490.34,140.80 490.57,140.80 490.80,140.80 491.03,140.80 491.26,140.80 491.49,140.80 491.72,140.80 491.95,140.80 492.19,140.80 492.42,140.80 492.65,140.80 492.88,140.80 493.11,140.80 493.34,140.80 493.57,140.80 493.80,140.80 494.03,140.80 494.26,140.80 494.49,140.80 494.72,140.80 494.95,140.80 495.19,140.80 495.42,140.80 495.65,140.80 495.88,140.80 496.11,140.80 496.34,140.80 496.57,140.80 496.80,140.80 497.03,140.80 497.26,140.80 497.49,140.80 497.72,140.80 497.96,140.80 498.19,140.80 498.42,140.80 498.65,124.49 498.88,124.49 499.11,124.49 499.34,140.80 499.57,124.49 499.80,124.49 500.03,124.49 500.26,140.80 500.49,124.49 500.73,124.49 500.96,124.49 501.19,140.80 501.42,140.80 501.65,140.80 501.88,140.80 502.11,140.80 502.34,124.49 502.57,140.80 502.80,140.80 503.03,124.49 503.26,140.80 503.49,140.80 503.73,140.80 503.96,140.80 504.19,140.80 504.42,140.80 504.65,140.80 504.88,140.80 505.11,140.80 505.34,140.80 505.57,140.80 505.80,140.80 506.03,140.80 506.26,140.80 506.50,140.80 506.73,140.80 506.96,140.80 507.19,140.80 507.42,140.80 507.65,140.80 507.88,140.80 508.11,140.80 508.34,140.80 508.57,140.80 508.80,140.80 509.03,140.80 509.26,124.49 509.50,124.49 509.73,140.80 509.96,140.80 510.19,140.80 510.42,140.80 510.65,140.80 510.88,140.80 511.11,140.80 511.34,140.80 511.57,124.49 511.80,140.80 512.03,124.49 512.26,124.49 512.50,124.49 512.73,140.80 512.96,140.80 513.19,140.80 513.42,140.80 513.65,124.49 513.88,124.49 514.11,124.49 514.34,124.49 514.57,124.49 514.80,140.80 515.03,140.80 515.27,124.49 515.50,124.49 515.73,124.49 515.96,124.49 516.19,140.80 516.42,140.80 516.65,140.80 516.88,124.49 517.11,124.49 517.34,124.49 517.57,140.80 517.80,140.80 518.03,124.49 518.27,108.10 518.50,140.80 518.73,140.80 518.96,140.80 519.19,140.80 519.42,140.80 519.65,124.49 519.88,140.80 520.11,124.49 520.34,124.49 520.57,124.49 520.80,124.49 521.04,124.49 521.27,140.80 521.50,124.49 521.73,140.80 521.96,140.80 522.19,124.49 522.42,124.49 522.65,140.80 522.88,140.80 523.11,108.10 523.34,140.80 523.57,140.80 523.80,140.80 524.04,140.80 524.27,124.49 524.50,124.49 524.73,140.80 524.96,124.49 525.19,140.80 525.42,124.49 525.65,140.80 525.88,140.80 526.11,140.80 526.34,140.80 526.57,140.80 526.81,140.80 527.04,140.80 527.27,140.80 527.50,140.80 527.73,140.80 527.96,140.80 528.19,140.80 528.42,140.80 528.65,140.80 528.88,140.80 529.11,140.80 529.34,140.80 529.58,140.80 529.81,140.80 530.04,140.80 530.27,140.80 530.50,140.80 530.73,140.80 530.96,140.80 531.19,124.49 531.42,124.49 531.65,140.80 531.88,124.49 532.11,108.10 532.34,124.49 532.58,124.49 532.81,124.49 533.04,124.49 533.27,140.80 533.50,140.80 533.73,140.80 533.96,140.80 534.19,140.80 534.42,140.80 534.65,140.80 534.88,140.80 535.11,140.80 535.35,140.80 535.58,140.80 535.81,140.80 536.04,140.80 536.27,140.80 536.50,140.80 536.73,140.80 536.96,140.80 537.19,140.80 537.42,140.80 537.65,140.80 537.88,140.80 538.11,140.80 538.35,140.80 538.58,140.80 538.81,140.80 539.04,140.80 539.27,140.80 539.50,140.80 539.73,140.80 539.96,140.80 540.19,140.80 540.42,140.80 540.65,140.80 540.88,140.80 541.12,140.80 541.35,140.80 541.58,140.80 541.81,140.80 542.04,140.80 542.27,140.80 542.50,140.80 542.73,140.80 542.96,140.80 543.19,140.80 543.42,140.80 543.65,140.80 543.88,140.80"/>
<line x1="313.20" y1="140.80" x2="544.00" y2="140.80" stroke="#9a9a9a" stroke-width="0.8"/>
<line x1="313.20" y1="27.00" x2="544.00" y2="27.00" stroke="#ffb0b0" stroke-width="2"/>
<rect x="369.50" y="4.20" width="81.40" height="10.00" fill="#fff" stroke="#8c8c8c" stroke-width="0.8"/>
<line x1="375.70" y1="9.20" x2="383.70" y2="9.20" stroke="#8a8a8a" stroke-width="1.30"/>
<text class="lg" transform="translate(384.50,11.70) scale(1,1.1)">value</text>
<line x1="404.50" y1="9.20" x2="412.70" y2="9.20" stroke="#ffaaaa" stroke-width="1.1"/>
<text class="lg" transform="translate(413.50,11.70) scale(1,1.1)">bit pack size</text>
<rect x="78.50" y="204.17" width="2.20" height="114.03" fill="#ffcaca"/>
<rect x="233.50" y="204.17" width="3.00" height="114.03" fill="#ffcaca"/>
<polyline fill="none" stroke="#333" stroke-width="0.50" stroke-linejoin="miter" stroke-miterlimit="2"  points="38.22,316.86 38.45,316.79 38.68,316.13 38.91,315.41 39.14,316.54 39.37,315.72 39.60,317.77 39.83,316.23 40.06,316.91 40.30,315.88 40.53,317.74 40.76,316.25 40.99,315.59 41.22,317.55 41.45,317.02 41.68,315.27 41.91,313.10 42.14,315.90 42.38,317.62 42.61,316.06 42.84,316.56 43.07,317.89 43.30,310.27 43.53,301.95 43.76,311.49 43.99,317.89 44.22,318.08 44.46,317.40 44.69,316.95 44.92,314.53 45.15,312.21 45.38,316.47 45.61,317.77 45.84,316.16 46.07,317.91 46.30,311.86 46.54,299.70 46.77,284.40 47.00,295.49 47.23,308.73 47.46,317.41 47.69,316.64 47.92,317.88 48.15,315.78 48.38,311.15 48.62,314.88 48.85,316.72 49.08,317.17 49.31,317.46 49.54,316.03 49.77,309.76 50.00,298.24 50.23,304.52 50.46,310.64 50.69,317.04 50.93,316.17 51.16,317.19 51.39,316.11 51.62,316.35 51.85,312.22 52.08,314.55 52.31,317.44 52.54,317.95 52.77,315.62 53.01,316.81 53.24,317.09 53.47,316.94 53.70,313.92 53.93,310.95 54.16,314.48 54.39,317.28 54.62,317.85 54.85,316.80 55.09,316.35 55.32,316.89 55.55,316.25 55.78,313.32 56.01,313.32 56.24,315.94 56.47,315.98 56.70,316.08 56.93,317.05 57.17,315.29 57.40,316.06 57.63,314.68 57.86,312.23 58.09,313.71 58.32,315.91 58.55,316.71 58.78,315.82 59.01,316.47 59.25,316.18 59.48,317.33 59.71,317.39 59.94,315.59 60.17,312.60 60.40,312.22 60.63,314.89 60.86,315.84 61.09,316.71 61.33,316.25 61.56,316.02 61.79,315.68 62.02,315.54 62.25,316.01 62.48,316.74 62.71,316.78 62.94,315.93 63.17,316.30 63.41,307.11 63.64,295.33 63.87,308.89 64.10,318.02 64.33,316.21 64.56,316.20 64.79,316.67 65.02,316.82 65.25,315.56 65.49,311.02 65.72,298.54 65.95,304.52 66.18,311.48 66.41,317.58 66.64,315.16 66.87,310.19 67.10,313.57 67.33,315.77 67.57,315.58 67.80,317.52 68.03,316.76 68.26,315.07 68.49,310.55 68.72,310.50 68.95,314.60 69.18,318.19 69.41,315.72 69.65,315.46 69.88,313.73 70.11,315.40 70.34,315.25 70.57,317.13 70.80,317.39 71.03,317.90 71.26,317.36 71.49,317.46 71.73,314.48 71.96,311.41 72.19,315.58 72.42,316.33 72.65,315.42 72.88,316.07 73.11,315.84 73.34,313.31 73.57,314.06 73.80,315.46 74.04,316.80 74.27,312.83 74.50,304.46 74.73,296.04 74.96,306.27 75.19,313.67 75.42,317.59 75.65,313.59 75.88,310.40 76.12,312.39 76.35,316.76 76.58,317.19 76.81,317.49 77.04,310.54 77.27,301.86 77.50,296.54 77.73,308.27 77.96,315.78 78.20,315.34 78.43,316.71 78.66,315.03 78.89,308.01 79.12,298.54 79.35,307.77 79.58,315.09 79.81,306.88 80.04,289.06 80.28,274.31 80.51,259.93 80.74,284.09 80.97,318.20 81.20,318.20 81.43,318.20 81.66,318.20 81.89,318.20 82.12,318.20 82.36,318.20 82.59,318.20 82.82,318.20 83.05,318.20 83.28,318.20 83.51,318.20 83.74,318.20 83.97,318.20 84.20,318.20 84.44,318.20 84.67,318.20 84.90,318.20 85.13,318.20 85.36,318.20 85.59,318.20 85.82,318.20 86.05,318.20 86.28,318.20 86.52,318.20 86.75,318.20 86.98,318.20 87.21,318.20 87.44,318.20 87.67,318.20 87.90,318.20 88.13,318.20 88.36,318.20 88.60,318.20 88.83,318.20 89.06,318.20 89.29,318.20 89.52,318.20 89.75,318.20 89.98,318.20 90.21,318.20 90.44,318.20 90.68,318.20 90.91,318.20 91.14,318.20 91.37,318.20 91.60,318.20 91.83,318.20 92.06,318.20 92.29,318.20 92.52,318.20 92.76,318.20 92.99,318.20 93.22,318.20 93.45,318.20 93.68,318.20 93.91,318.20 94.14,318.20 94.37,318.20 94.60,318.20 94.84,318.20 95.07,318.20 95.30,318.20 95.53,318.20 95.76,318.20 95.99,318.20 96.22,318.20 96.45,318.20 96.68,318.20 96.91,318.20 97.15,318.20 97.38,318.20 97.61,318.20 97.84,318.20 98.07,318.20 98.30,318.20 98.53,318.20 98.76,318.20 98.99,318.20 99.23,318.20 99.46,318.20 99.69,318.20 99.92,318.20 100.15,318.20 100.38,318.20 100.61,318.20 100.84,318.20 101.07,318.20 101.31,318.20 101.54,318.20 101.77,318.20 102.00,318.20 102.23,318.20 102.46,318.20 102.69,318.20 102.92,318.20 103.15,318.20 103.39,318.20 103.62,318.20 103.85,278.68 104.08,264.75 104.31,289.31 104.54,302.61 104.77,316.29 105.00,309.32 105.23,294.23 105.47,301.00 105.70,310.98 105.93,317.82 106.16,313.92 106.39,309.06 106.62,312.65 106.85,316.62 107.08,316.42 107.31,314.51 107.55,309.73 107.78,304.85 108.01,300.85 108.24,308.60 108.47,312.53 108.70,314.50 108.93,309.45 109.16,314.40 109.39,317.53 109.63,317.20 109.86,315.57 110.09,310.23 110.32,313.20 110.55,315.33 110.78,315.77 111.01,317.54 111.24,317.33 111.47,316.73 111.71,314.65 111.94,312.14 112.17,314.29 112.40,317.06 112.63,317.78 112.86,318.02 113.09,310.80 113.32,291.02 113.55,297.82 113.79,311.48 114.02,315.99 114.25,316.23 114.48,317.09 114.71,317.66 114.94,315.71 115.17,308.95 115.40,301.96 115.63,294.73 115.87,307.16 116.10,315.55 116.33,317.10 116.56,315.61 116.79,312.63 117.02,312.18 117.25,314.79 117.48,318.10 117.71,315.48 117.95,312.60 118.18,306.86 118.41,300.85 118.64,306.17 118.87,310.97 119.10,316.12 119.33,315.49 119.56,314.99 119.79,312.47 120.02,311.33 120.26,314.09 120.49,316.93 120.72,315.45 120.95,313.76 121.18,298.22 121.41,279.99 121.64,296.50 121.87,310.61 122.10,317.62 122.34,317.47 122.57,315.88 122.80,311.93 123.03,310.70 123.26,314.70 123.49,317.91 123.72,316.00 123.95,308.75 124.18,301.56 124.42,294.73 124.65,305.65 124.88,313.93 125.11,316.52 125.34,316.02 125.57,315.88 125.80,313.54 126.03,312.60 126.26,315.43 126.50,316.70 126.73,315.81 126.96,310.92 127.19,308.76 127.42,313.18 127.65,318.08 127.88,317.85 128.11,315.32 128.34,315.45 128.58,315.64 128.81,314.92 129.04,314.23 129.27,316.44 129.50,317.56 129.73,317.78 129.96,317.45 130.19,316.27 130.42,318.03 130.66,316.19 130.89,317.28 131.12,315.25 131.35,312.97 131.58,315.45 131.81,316.31 132.04,317.72 132.27,316.99 132.50,317.17 132.74,315.36 132.97,314.29 133.20,315.64 133.43,317.12 133.66,316.05 133.89,317.94 134.12,316.95 134.35,317.00 134.58,316.84 134.82,316.05 135.05,315.75 135.28,317.28 135.51,317.10 135.74,317.76 135.97,316.66 136.20,317.88 136.43,315.82 136.66,317.37 136.90,315.25 137.13,316.32 137.36,315.46 137.59,315.53 137.82,315.76 138.05,315.88 138.28,317.00 138.51,315.75 138.74,316.27 138.98,314.49 139.21,316.84 139.44,316.06 139.67,318.08 139.90,315.96 140.13,315.72 140.36,316.43 140.59,316.35 140.82,316.96 141.06,300.66 141.29,269.46 141.52,289.95 141.75,311.71 141.98,315.94 142.21,314.12 142.44,312.01 142.67,314.48 142.90,316.87 143.13,316.69 143.37,314.54 143.60,312.55 143.83,315.83 144.06,316.71 144.29,315.39 144.52,315.66 144.75,312.64 144.98,310.76 145.21,313.66 145.45,315.49 145.68,315.87 145.91,318.01 146.14,315.47 146.37,302.15 146.60,288.11 146.83,308.50 147.06,317.58 147.29,316.70 147.53,317.33 147.76,315.64 147.99,308.15 148.22,299.47 148.45,294.23 148.68,307.84 148.91,315.62 149.14,316.48 149.37,317.57 149.61,313.67 149.84,310.55 150.07,310.83 150.30,314.08 150.53,316.89 150.76,316.00 150.99,315.77 151.22,316.31 151.45,316.47 151.69,308.57 151.92,300.95 152.15,283.30 152.38,291.48 152.61,299.44 152.84,310.32 153.07,317.00 153.30,311.36 153.53,309.86 153.77,315.33 154.00,316.35 154.23,317.80 154.46,312.86 154.69,308.48 154.92,303.06 155.15,310.82 155.38,316.53 155.61,314.77 155.85,312.18 156.08,312.33 156.31,314.97 156.54,317.88 156.77,314.57 157.00,304.35 157.23,291.72 157.46,274.57 157.69,286.50 157.93,295.01 158.16,305.99 158.39,317.19 158.62,316.90 158.85,311.78 159.08,312.50 159.31,316.00 159.54,316.01 159.77,315.65 160.01,303.29 160.24,285.51 160.47,299.64 160.70,313.47 160.93,316.56 161.16,315.36 161.39,311.98 161.62,313.45 161.85,315.60 162.09,317.43 162.32,316.00 162.55,311.64 162.78,304.69 163.01,293.13 163.24,300.18 163.47,308.80 163.70,316.77 163.93,316.14 164.17,316.91 164.40,312.02 164.63,314.70 164.86,317.97 165.09,316.04 165.32,306.46 165.55,287.71 165.78,297.19 166.01,307.45 166.24,316.14 166.48,317.91 166.71,317.13 166.94,315.78 167.17,314.66 167.40,311.12 167.63,312.90 167.86,316.68 168.09,315.69 168.32,311.10 168.56,303.77 168.79,298.26 169.02,290.36 169.25,302.06 169.48,318.20 169.71,318.20 169.94,318.20 170.17,318.20 170.40,318.20 170.64,318.20 170.87,318.20 171.10,318.20 171.33,318.20 171.56,318.20 171.79,318.20 172.02,318.20 172.25,318.20 172.48,318.20 172.72,318.20 172.95,318.20 173.18,318.20 173.41,318.20 173.64,318.20 173.87,318.20 174.10,318.20 174.33,318.20 174.56,318.20 174.80,318.20 175.03,318.20 175.26,318.20 175.49,318.20 175.72,318.20 175.95,318.20 176.18,318.20 176.41,318.20 176.64,318.20 176.88,318.20 177.11,318.20 177.34,318.20 177.57,318.20 177.80,318.20 178.03,318.20 178.26,318.20 178.49,318.20 178.72,318.20 178.96,318.20 179.19,318.20 179.42,318.20 179.65,318.20 179.88,303.24 180.11,296.45 180.34,305.33 180.57,312.26 180.80,311.58 181.04,309.94 181.27,314.24 181.50,317.17 181.73,312.92 181.96,307.54 182.19,297.54 182.42,304.07 182.65,309.77 182.88,315.18 183.12,316.75 183.35,317.65 183.58,315.28 183.81,312.05 184.04,310.89 184.27,314.48 184.50,317.21 184.73,306.32 184.96,294.59 185.20,278.49 185.43,289.84 185.66,300.40 185.89,311.50 186.12,310.46 186.35,302.56 186.58,305.80 186.81,309.36 187.04,310.33 187.28,304.72 187.51,299.75 187.74,307.37 187.97,311.75 188.20,317.07 188.43,310.77 188.66,299.75 188.89,304.86 189.12,311.67 189.35,316.12 189.59,317.74 189.82,313.86 190.05,312.45 190.28,316.99 190.51,315.32 190.74,314.15 190.97,307.50 191.20,314.72 191.43,316.03 191.67,317.62 191.90,317.88 192.13,317.05 192.36,314.13 192.59,313.84 192.82,316.33 193.05,317.78 193.28,309.12 193.51,295.33 193.75,304.89 193.98,314.56 194.21,316.06 194.44,315.91 194.67,315.68 194.90,310.81 195.13,313.44 195.36,317.91 195.59,315.89 195.83,316.34 196.06,297.55 196.29,270.86 196.52,301.04 196.75,317.66 196.98,315.90 197.21,315.65 197.44,310.04 197.67,314.48 197.91,315.42 198.14,317.90 198.37,316.60 198.60,311.64 198.83,298.51 199.06,282.90 199.29,296.52 199.52,310.69 199.75,317.84 199.99,317.15 200.22,315.95 200.45,308.37 200.68,303.06 200.91,315.22 201.14,317.54 201.37,315.42 201.60,315.43 201.83,311.21 202.07,311.17 202.30,314.57 202.53,316.81 202.76,317.53 202.99,317.16 203.22,305.10 203.45,289.52 203.68,303.75 203.91,315.73 204.15,315.68 204.38,312.79 204.61,313.41 204.84,316.93 205.07,317.37 205.30,316.51 205.53,312.80 205.76,315.08 205.99,315.45 206.23,318.03 206.46,315.52 206.69,314.97 206.92,312.86 207.15,314.49 207.38,316.01 207.61,317.90 207.84,317.51 208.07,317.18 208.31,315.53 208.54,314.65 208.77,316.40 209.00,316.22 209.23,315.87 209.46,317.62 209.69,316.63 209.92,314.49 210.15,315.90 210.39,317.51 210.62,316.74 210.85,314.60 211.08,310.43 211.31,314.47 211.54,318.18 211.77,316.82 212.00,316.23 212.23,315.94 212.46,312.91 212.70,315.94 212.93,318.12 213.16,316.18 213.39,316.74 213.62,314.40 213.85,312.53 214.08,314.52 214.31,316.34 214.54,317.12 214.78,316.65 215.01,317.58 215.24,316.95 215.47,315.75 215.70,315.75 215.93,316.71 216.16,316.70 216.39,316.26 216.62,317.22 216.86,317.31 217.09,316.32 217.32,318.08 217.55,315.58 217.78,317.16 218.01,316.15 218.24,315.47 218.47,316.25 218.70,315.51 218.94,316.38 219.17,316.14 219.40,316.19 219.63,316.23 219.86,315.94 220.09,316.12 220.32,315.91 220.55,316.26 220.78,315.77 221.02,316.54 221.25,317.31 221.48,317.26 221.71,316.30 221.94,315.60 222.17,316.47 222.40,315.80 222.63,315.48 222.86,317.93 223.10,316.45 223.33,308.27 223.56,297.31 223.79,288.82 224.02,308.69 224.25,318.19 224.48,315.94 224.71,310.27 224.94,312.67 225.18,316.07 225.41,310.76 225.64,305.11 225.87,296.44 226.10,302.93 226.33,310.35 226.56,315.72 226.79,317.45 227.02,312.16 227.26,307.19 227.49,298.54 227.72,307.29 227.95,312.63 228.18,316.76 228.41,317.11 228.64,315.74 228.87,310.19 229.10,310.33 229.34,315.99 229.57,317.06 229.80,315.40 230.03,300.45 230.26,282.20 230.49,296.68 230.72,312.77 230.95,315.31 231.18,311.27 231.42,304.14 231.65,294.33 231.88,288.82 232.11,301.14 232.34,310.40 232.57,316.95 232.80,315.58 233.03,315.26 233.26,310.81 233.50,306.69 233.73,311.82 233.96,315.70 234.19,317.17 234.42,310.08 234.65,291.89 234.88,275.02 235.11,257.73 235.34,279.52 235.57,298.01 235.81,313.20 236.04,313.55 236.27,308.27 236.50,301.58 236.73,288.82 236.96,296.95 237.19,304.75 237.42,302.56 237.65,306.58 237.89,311.29 238.12,301.60 238.35,281.09 238.58,297.01 238.81,311.66 239.04,313.83 239.27,308.71 239.50,302.56 239.73,308.48 239.97,314.31 240.20,310.30 240.43,300.19 240.66,291.02 240.89,305.27 241.12,316.33 241.35,310.02 241.58,297.54 241.81,308.63 242.05,315.51 242.28,316.43 242.51,315.56 242.74,310.88 242.97,313.70 243.20,316.22 243.43,307.93 243.66,295.58 243.89,284.40 244.13,307.45 244.36,312.00 244.59,307.54 244.82,312.27 245.05,306.38 245.28,291.02 245.51,299.17 245.74,306.56 245.97,318.20 246.21,318.20 246.44,318.20 246.67,318.20 246.90,318.20 247.13,318.20 247.36,318.20 247.59,318.20 247.82,318.20 248.05,318.20 248.29,318.20 248.52,318.20 248.75,318.20 248.98,318.20 249.21,318.20 249.44,318.20 249.67,318.20 249.90,318.20 250.13,318.20 250.37,318.20 250.60,318.20 250.83,318.20 251.06,318.20 251.29,318.20 251.52,318.20 251.75,318.20 251.98,318.20 252.21,318.20 252.45,318.20 252.68,318.20 252.91,318.20 253.14,318.20 253.37,318.20 253.60,318.20 253.83,318.20 254.06,318.20 254.29,318.20 254.53,318.20 254.76,318.20 254.99,318.20 255.22,318.20 255.45,318.20 255.68,318.20 255.91,318.20 256.14,318.20 256.37,318.20 256.61,318.20 256.84,318.20 257.07,318.20 257.30,318.20 257.53,318.20 257.76,318.20 257.99,318.20 258.22,318.20 258.45,318.20 258.68,318.20 258.92,318.20 259.15,318.20 259.38,318.20 259.61,318.20 259.84,318.20 260.07,318.20 260.30,318.20 260.53,318.20 260.76,318.20 261.00,318.20 261.23,318.20 261.46,318.20 261.69,318.20 261.92,318.20 262.15,318.20 262.38,318.20 262.61,318.20 262.84,318.20 263.08,318.20 263.31,318.20 263.54,318.20 263.77,318.20 264.00,318.20 264.23,318.20 264.46,318.20 264.69,318.20 264.92,318.20 265.16,318.20 265.39,318.20 265.62,318.20 265.85,318.20 266.08,318.20 266.31,318.20 266.54,318.20 266.77,318.20 267.00,318.20 267.24,318.20 267.47,318.20 267.70,318.20 267.93,318.20 268.16,318.20 268.39,318.20 268.62,318.20 268.85,318.20 269.08,318.20"/>
<line x1="38.10" y1="318.20" x2="269.20" y2="318.20" stroke="#9a9a9a" stroke-width="0.8"/>
<polyline fill="none" stroke="#ff7070" stroke-width="0.80" stroke-linejoin="miter" stroke-miterlimit="2"  points="38.10,314.64 41.50,314.64 41.50,303.95 43.40,303.95 43.40,289.69 45.40,289.69 45.40,261.18 47.70,261.18 47.70,303.95 49.00,303.95 49.00,289.69 51.10,289.69 51.10,303.95 55.90,303.95 55.90,311.07 59.90,311.07 59.90,303.95 62.30,303.95 62.30,289.69 67.90,289.69 67.90,303.95 72.90,303.95 72.90,289.69 78.40,289.69 78.40,204.17 80.80,204.17 80.80,318.20 102.30,318.20 102.30,261.18 104.50,261.18 104.50,289.69 107.80,289.69 107.80,303.95 112.00,303.95 112.00,289.69 121.10,289.69 121.10,261.18 123.40,261.18 123.40,289.69 125.30,289.69 125.30,303.95 128.70,303.95 128.70,311.07 130.70,311.07 130.70,303.95 134.00,303.95 134.00,311.07 139.40,311.07 139.40,261.18 141.70,261.18 141.70,303.95 145.00,303.95 145.00,261.18 147.10,261.18 147.10,289.69 150.00,289.69 150.00,261.18 152.70,261.18 152.70,289.69 156.10,289.69 156.10,261.18 157.90,261.18 157.90,289.69 160.10,289.69 160.10,261.18 162.10,261.18 162.10,289.69 165.20,289.69 165.20,261.18 169.60,261.18 169.60,318.20 178.80,318.20 178.80,261.18 180.60,261.18 180.60,289.69 184.20,289.69 184.20,261.18 186.00,261.18 186.00,289.69 195.40,289.69 195.40,261.18 197.20,261.18 197.20,303.95 199.40,303.95 199.40,261.18 200.80,261.18 200.80,303.95 202.30,303.95 202.30,261.18 204.20,261.18 204.20,303.95 206.40,303.95 206.40,311.07 209.80,311.07 209.80,303.95 211.60,303.95 211.60,311.07 213.20,311.07 213.20,303.95 215.20,303.95 215.20,314.64 219.40,314.64 219.40,316.42 222.50,316.42 222.50,261.18 224.90,261.18 224.90,289.69 228.50,289.69 228.50,261.18 233.40,261.18 233.40,204.17 236.50,204.17 236.50,261.18 239.60,261.18 239.60,289.69 242.90,289.69 242.90,261.18 244.70,261.18 244.70,289.69 247.40,289.69 247.40,318.20 269.20,318.20"/>
<rect x="94.60" y="181.40" width="81.30" height="10.00" fill="#fff" stroke="#8c8c8c" stroke-width="0.8"/>
<line x1="100.80" y1="186.40" x2="108.80" y2="186.40" stroke="#3a3a3a" stroke-width="0.90"/>
<text class="lg" transform="translate(109.60,188.90) scale(1,1.1)">value</text>
<line x1="129.60" y1="186.40" x2="137.80" y2="186.40" stroke="#ff6a6a" stroke-width="1.1"/>
<text class="lg" transform="translate(138.60,188.90) scale(1,1.1)">bit pack size</text>
<rect x="530.95" y="203.50" width="2.10" height="113.90" fill="#ffd4d4"/>
<polyline fill="none" stroke="#333" stroke-width="0.50" stroke-linejoin="miter" stroke-miterlimit="2"  points="310.22,284.73 310.45,284.73 310.68,284.73 310.92,284.73 311.15,284.73 311.39,284.73 311.62,317.40 311.85,317.40 312.09,317.40 312.32,317.40 312.55,251.88 312.79,219.20 313.02,251.88 313.25,219.20 313.49,251.88 313.72,284.73 313.96,251.88 314.19,251.88 314.42,251.88 314.66,284.73 314.89,317.40 315.12,284.73 315.36,284.73 315.59,317.40 315.83,284.73 316.06,317.40 316.29,284.73 316.53,284.73 316.76,284.73 316.99,284.73 317.23,284.73 317.46,284.73 317.70,284.73 317.93,284.73 318.16,284.73 318.40,284.73 318.63,284.73 318.86,284.73 319.10,284.73 319.33,284.73 319.56,284.73 319.80,317.40 320.03,317.40 320.27,284.73 320.50,284.73 320.73,284.73 320.97,284.73 321.20,284.73 321.43,284.73 321.67,284.73 321.90,317.40 322.14,284.73 322.37,317.40 322.60,317.40 322.84,317.40 323.07,317.40 323.30,317.40 323.54,317.40 323.77,317.40 324.01,317.40 324.24,317.40 324.47,317.40 324.71,317.40 324.94,317.40 325.17,317.40 325.41,317.40 325.64,317.40 325.87,317.40 326.11,317.40 326.34,317.40 326.58,317.40 326.81,317.40 327.04,317.40 327.28,317.40 327.51,317.40 327.74,317.40 327.98,317.40 328.21,284.73 328.45,284.73 328.68,284.73 328.91,284.73 329.15,317.40 329.38,317.40 329.61,317.40 329.85,317.40 330.08,284.73 330.32,284.73 330.55,284.73 330.78,284.73 331.02,317.40 331.25,317.40 331.48,251.88 331.72,284.73 331.95,317.40 332.18,317.40 332.42,317.40 332.65,317.40 332.89,317.40 333.12,317.40 333.35,317.40 333.59,317.40 333.82,317.40 334.05,317.40 334.29,284.73 334.52,284.73 334.76,317.40 334.99,317.40 335.22,317.40 335.46,317.40 335.69,317.40 335.92,317.40 336.16,317.40 336.39,317.40 336.62,317.40 336.86,317.40 337.09,317.40 337.33,317.40 337.56,317.40 337.79,317.40 338.03,317.40 338.26,317.40 338.49,317.40 338.73,317.40 338.96,317.40 339.20,317.40 339.43,317.40 339.66,317.40 339.90,317.40 340.13,317.40 340.36,317.40 340.60,317.40 340.83,317.40 341.07,317.40 341.30,317.40 341.53,317.40 341.77,317.40 342.00,317.40 342.23,317.40 342.47,317.40 342.70,317.40 342.93,317.40 343.17,317.40 343.40,317.40 343.64,284.73 343.87,284.73 344.10,317.40 344.34,317.40 344.57,251.88 344.80,284.73 345.04,317.40 345.27,317.40 345.51,317.40 345.74,317.40 345.97,284.73 346.21,317.40 346.44,317.40 346.67,317.40 346.91,317.40 347.14,317.40 347.38,317.40 347.61,317.40 347.84,317.40 348.08,317.40 348.31,317.40 348.54,317.40 348.78,317.40 349.01,317.40 349.24,284.73 349.48,284.73 349.71,284.73 349.95,251.88 350.18,284.73 350.41,284.73 350.65,284.73 350.88,317.40 351.11,317.40 351.35,317.40 351.58,284.73 351.82,317.40 352.05,317.40 352.28,317.40 352.52,317.40 352.75,317.40 352.98,317.40 353.22,317.40 353.45,317.40 353.69,317.40 353.92,317.40 354.15,317.40 354.39,317.40 354.62,317.40 354.85,317.40 355.09,317.40 355.32,317.40 355.55,317.40 355.79,317.40 356.02,317.40 356.26,317.40 356.49,317.40 356.72,317.40 356.96,317.40 357.19,317.40 357.42,317.40 357.66,317.40 357.89,317.40 358.13,317.40 358.36,317.40 358.59,317.40 358.83,317.40 359.06,317.40 359.29,317.40 359.53,317.40 359.76,317.40 359.99,317.40 360.23,317.40 360.46,317.40 360.70,317.40 360.93,317.40 361.16,317.40 361.40,317.40 361.63,317.40 361.86,317.40 362.10,317.40 362.33,284.73 362.57,284.73 362.80,284.73 363.03,317.40 363.27,284.73 363.50,284.73 363.73,284.73 363.97,284.73 364.20,284.73 364.44,284.73 364.67,284.73 364.90,251.88 365.14,284.73 365.37,284.73 365.60,317.40 365.84,284.73 366.07,284.73 366.30,284.73 366.54,284.73 366.77,317.40 367.01,317.40 367.24,317.40 367.47,284.73 367.71,284.73 367.94,284.73 368.17,284.73 368.41,284.73 368.64,251.88 368.88,284.73 369.11,284.73 369.34,284.73 369.58,284.73 369.81,284.73 370.04,284.73 370.28,284.73 370.51,284.73 370.75,284.73 370.98,317.40 371.21,317.40 371.45,317.40 371.68,317.40 371.91,317.40 372.15,317.40 372.38,317.40 372.61,317.40 372.85,317.40 373.08,317.40 373.32,317.40 373.55,317.40 373.78,317.40 374.02,317.40 374.25,317.40 374.48,317.40 374.72,317.40 374.95,317.40 375.19,317.40 375.42,317.40 375.65,317.40 375.89,317.40 376.12,317.40 376.35,317.40 376.59,317.40 376.82,317.40 377.06,284.73 377.29,317.40 377.52,317.40 377.76,317.40 377.99,317.40 378.22,317.40 378.46,317.40 378.69,317.40 378.92,284.73 379.16,317.40 379.39,317.40 379.63,317.40 379.86,284.73 380.09,317.40 380.33,317.40 380.56,317.40 380.79,284.73 381.03,284.73 381.26,284.73 381.50,284.73 381.73,284.73 381.96,284.73 382.20,284.73 382.43,317.40 382.66,284.73 382.90,317.40 383.13,317.40 383.36,317.40 383.60,317.40 383.83,284.73 384.07,284.73 384.30,284.73 384.53,284.73 384.77,284.73 385.00,284.73 385.23,317.40 385.47,317.40 385.70,317.40 385.94,284.73 386.17,317.40 386.40,317.40 386.64,317.40 386.87,317.40 387.10,317.40 387.34,317.40 387.57,317.40 387.81,317.40 388.04,317.40 388.27,317.40 388.51,317.40 388.74,317.40 388.97,317.40 389.21,317.40 389.44,317.40 389.67,317.40 389.91,317.40 390.14,317.40 390.38,317.40 390.61,317.40 390.84,317.40 391.08,317.40 391.31,317.40 391.54,317.40 391.78,317.40 392.01,317.40 392.25,317.40 392.48,317.40 392.71,317.40 392.95,317.40 393.18,317.40 393.41,317.40 393.65,317.40 393.88,317.40 394.12,317.40 394.35,317.40 394.58,317.40 394.82,317.40 395.05,317.40 395.28,317.40 395.52,317.40 395.75,317.40 395.98,284.73 396.22,284.73 396.45,284.73 396.69,284.73 396.92,284.73 397.15,284.73 397.39,284.73 397.62,284.73 397.85,284.73 398.09,284.73 398.32,284.73 398.56,284.73 398.79,284.73 399.02,284.73 399.26,284.73 399.49,284.73 399.72,317.40 399.96,251.88 400.19,317.40 400.43,317.40 400.66,317.40 400.89,317.40 401.13,317.40 401.36,317.40 401.59,317.40 401.83,317.40 402.06,284.73 402.29,284.73 402.53,317.40 402.76,317.40 403.00,317.40 403.23,317.40 403.46,317.40 403.70,317.40 403.93,317.40 404.16,317.40 404.40,317.40 404.63,284.73 404.87,284.73 405.10,317.40 405.33,317.40 405.57,317.40 405.80,317.40 406.03,317.40 406.27,317.40 406.50,317.40 406.73,317.40 406.97,317.40 407.20,317.40 407.44,317.40 407.67,317.40 407.90,317.40 408.14,317.40 408.37,317.40 408.60,317.40 408.84,317.40 409.07,317.40 409.31,317.40 409.54,317.40 409.77,317.40 410.01,317.40 410.24,317.40 410.47,317.40 410.71,317.40 410.94,284.73 411.18,284.73 411.41,317.40 411.64,317.40 411.88,317.40 412.11,317.40 412.34,317.40 412.58,317.40 412.81,317.40 413.04,284.73 413.28,284.73 413.51,284.73 413.75,284.73 413.98,284.73 414.21,284.73 414.45,284.73 414.68,284.73 414.91,317.40 415.15,317.40 415.38,317.40 415.62,251.88 415.85,317.40 416.08,317.40 416.32,317.40 416.55,284.73 416.78,284.73 417.02,284.73 417.25,284.73 417.49,284.73 417.72,284.73 417.95,284.73 418.19,284.73 418.42,284.73 418.65,317.40 418.89,317.40 419.12,317.40 419.35,317.40 419.59,317.40 419.82,317.40 420.06,317.40 420.29,317.40 420.52,317.40 420.76,317.40 420.99,317.40 421.22,317.40 421.46,317.40 421.69,317.40 421.93,317.40 422.16,317.40 422.39,317.40 422.63,317.40 422.86,317.40 423.09,317.40 423.33,317.40 423.56,317.40 423.80,317.40 424.03,317.40 424.26,317.40 424.50,317.40 424.73,317.40 424.96,317.40 425.20,317.40 425.43,317.40 425.66,317.40 425.90,317.40 426.13,317.40 426.37,317.40 426.60,317.40 426.83,317.40 427.07,317.40 427.30,317.40 427.53,317.40 427.77,317.40 428.00,317.40 428.24,317.40 428.47,317.40 428.70,317.40 428.94,317.40 429.17,317.40 429.40,317.40 429.64,317.40 429.87,317.40 430.10,284.73 430.34,284.73 430.57,317.40 430.81,284.73 431.04,284.73 431.27,317.40 431.51,317.40 431.74,317.40 431.97,317.40 432.21,317.40 432.44,284.73 432.68,317.40 432.91,317.40 433.14,284.73 433.38,284.73 433.61,284.73 433.84,317.40 434.08,284.73 434.31,284.73 434.55,284.73 434.78,284.73 435.01,284.73 435.25,284.73 435.48,284.73 435.71,251.88 435.95,317.40 436.18,317.40 436.41,284.73 436.65,317.40 436.88,317.40 437.12,317.40 437.35,284.73 437.58,284.73 437.82,284.73 438.05,284.73 438.28,284.73 438.52,284.73 438.75,284.73 438.99,284.73 439.22,284.73 439.45,284.73 439.69,317.40 439.92,317.40 440.15,317.40 440.39,284.73 440.62,284.73 440.86,284.73 441.09,284.73 441.32,284.73 441.56,284.73 441.79,284.73 442.02,284.73 442.26,284.73 442.49,284.73 442.72,284.73 442.96,317.40 443.19,317.40 443.43,284.73 443.66,317.40 443.89,317.40 444.13,317.40 444.36,317.40 444.59,317.40 444.83,317.40 445.06,284.73 445.30,284.73 445.53,317.40 445.76,317.40 446.00,317.40 446.23,317.40 446.46,317.40 446.70,317.40 446.93,317.40 447.17,317.40 447.40,317.40 447.63,317.40 447.87,284.73 448.10,284.73 448.33,284.73 448.57,284.73 448.80,284.73 449.03,317.40 449.27,317.40 449.50,284.73 449.74,251.88 449.97,317.40 450.20,317.40 450.44,317.40 450.67,284.73 450.90,317.40 451.14,317.40 451.37,317.40 451.61,317.40 451.84,317.40 452.07,317.40 452.31,317.40 452.54,317.40 452.77,284.73 453.01,284.73 453.24,284.73 453.47,284.73 453.71,284.73 453.94,284.73 454.18,284.73 454.41,284.73 454.64,284.73 454.88,284.73 455.11,284.73 455.34,317.40 455.58,317.40 455.81,317.40 456.05,317.40 456.28,317.40 456.51,317.40 456.75,317.40 456.98,317.40 457.21,317.40 457.45,317.40 457.68,317.40 457.92,317.40 458.15,317.40 458.38,317.40 458.62,317.40 458.85,317.40 459.08,317.40 459.32,317.40 459.55,317.40 459.78,317.40 460.02,317.40 460.25,317.40 460.49,317.40 460.72,317.40 460.95,317.40 461.19,317.40 461.42,317.40 461.65,317.40 461.89,317.40 462.12,317.40 462.36,317.40 462.59,317.40 462.82,317.40 463.06,317.40 463.29,317.40 463.52,317.40 463.76,317.40 463.99,284.73 464.23,284.73 464.46,284.73 464.69,284.73 464.93,284.73 465.16,284.73 465.39,284.73 465.63,284.73 465.86,284.73 466.09,284.73 466.33,284.73 466.56,317.40 466.80,317.40 467.03,317.40 467.26,317.40 467.50,284.73 467.73,317.40 467.96,317.40 468.20,317.40 468.43,317.40 468.67,317.40 468.90,317.40 469.13,317.40 469.37,317.40 469.60,317.40 469.83,317.40 470.07,317.40 470.30,317.40 470.54,317.40 470.77,317.40 471.00,317.40 471.24,317.40 471.47,317.40 471.70,317.40 471.94,317.40 472.17,317.40 472.40,317.40 472.64,317.40 472.87,317.40 473.11,317.40 473.34,317.40 473.57,317.40 473.81,317.40 474.04,317.40 474.27,317.40 474.51,317.40 474.74,317.40 474.98,284.73 475.21,284.73 475.44,284.73 475.68,317.40 475.91,317.40 476.14,317.40 476.38,317.40 476.61,317.40 476.84,317.40 477.08,317.40 477.31,284.73 477.55,284.73 477.78,284.73 478.01,284.73 478.25,284.73 478.48,284.73 478.71,317.40 478.95,317.40 479.18,317.40 479.42,284.73 479.65,284.73 479.88,317.40 480.12,284.73 480.35,317.40 480.58,317.40 480.82,317.40 481.05,317.40 481.29,317.40 481.52,284.73 481.75,284.73 481.99,317.40 482.22,317.40 482.45,251.88 482.69,284.73 482.92,284.73 483.15,284.73 483.39,284.73 483.62,284.73 483.86,284.73 484.09,317.40 484.32,284.73 484.56,284.73 484.79,284.73 485.02,284.73 485.26,284.73 485.49,284.73 485.73,284.73 485.96,317.40 486.19,317.40 486.43,317.40 486.66,317.40 486.89,317.40 487.13,317.40 487.36,317.40 487.60,284.73 487.83,284.73 488.06,284.73 488.30,317.40 488.53,317.40 488.76,317.40 489.00,317.40 489.23,317.40 489.46,317.40 489.70,317.40 489.93,317.40 490.17,317.40 490.40,317.40 490.63,317.40 490.87,317.40 491.10,317.40 491.33,317.40 491.57,317.40 491.80,317.40 492.04,317.40 492.27,317.40 492.50,317.40 492.74,317.40 492.97,317.40 493.20,317.40 493.44,317.40 493.67,317.40 493.91,317.40 494.14,317.40 494.37,317.40 494.61,317.40 494.84,317.40 495.07,317.40 495.31,317.40 495.54,317.40 495.77,317.40 496.01,317.40 496.24,317.40 496.48,317.40 496.71,317.40 496.94,317.40 497.18,317.40 497.41,317.40 497.64,317.40 497.88,284.73 498.11,317.40 498.35,317.40 498.58,317.40 498.81,284.73 499.05,284.73 499.28,284.73 499.51,284.73 499.75,317.40 499.98,317.40 500.21,317.40 500.45,284.73 500.68,284.73 500.92,284.73 501.15,284.73 501.38,284.73 501.62,317.40 501.85,317.40 502.08,317.40 502.32,284.73 502.55,317.40 502.79,317.40 503.02,317.40 503.25,317.40 503.49,317.40 503.72,317.40 503.95,317.40 504.19,317.40 504.42,317.40 504.66,317.40 504.89,317.40 505.12,317.40 505.36,317.40 505.59,317.40 505.82,317.40 506.06,317.40 506.29,317.40 506.52,317.40 506.76,317.40 506.99,317.40 507.23,317.40 507.46,317.40 507.69,317.40 507.93,317.40 508.16,317.40 508.39,317.40 508.63,284.73 508.86,284.73 509.10,317.40 509.33,317.40 509.56,317.40 509.80,317.40 510.03,317.40 510.26,317.40 510.50,317.40 510.73,317.40 510.97,284.73 511.20,284.73 511.43,317.40 511.67,317.40 511.90,317.40 512.13,317.40 512.37,284.73 512.60,317.40 512.83,284.73 513.07,284.73 513.30,284.73 513.54,284.73 513.77,317.40 514.00,284.73 514.24,284.73 514.47,284.73 514.70,284.73 514.94,284.73 515.17,284.73 515.41,284.73 515.64,284.73 515.87,284.73 516.11,317.40 516.34,317.40 516.57,317.40 516.81,284.73 517.04,284.73 517.28,284.73 517.51,284.73 517.74,251.88 517.98,284.73 518.21,284.73 518.44,317.40 518.68,317.40 518.91,317.40 519.14,317.40 519.38,317.40 519.61,317.40 519.85,317.40 520.08,317.40 520.31,317.40 520.55,317.40 520.78,317.40 521.01,317.40 521.25,317.40 521.48,317.40 521.72,317.40 521.95,317.40 522.18,317.40 522.42,317.40 522.65,251.88 522.88,317.40 523.12,317.40 523.35,317.40 523.58,317.40 523.82,317.40 524.05,284.73 524.29,284.73 524.52,284.73 524.75,317.40 524.99,284.73 525.22,317.40 525.45,317.40 525.69,317.40 525.92,317.40 526.16,317.40 526.39,317.40 526.62,317.40 526.86,317.40 527.09,317.40 527.32,317.40 527.56,317.40 527.79,317.40 528.03,317.40 528.26,317.40 528.49,317.40 528.73,317.40 528.96,317.40 529.19,317.40 529.43,317.40 529.66,317.40 529.89,317.40 530.13,317.40 530.36,317.40 530.60,317.40 530.83,284.73 531.06,284.73 531.30,284.73 531.53,284.73 531.76,251.88 532.00,284.73 532.23,284.73 532.47,284.73 532.70,284.73 532.93,317.40 533.17,317.40 533.40,317.40 533.63,317.40 533.87,317.40 534.10,317.40 534.34,317.40 534.57,317.40 534.80,317.40 535.04,317.40 535.27,317.40 535.50,317.40 535.74,317.40 535.97,317.40 536.20,317.40 536.44,317.40 536.67,317.40 536.91,317.40 537.14,317.40 537.37,317.40 537.61,317.40 537.84,317.40 538.07,317.40 538.31,317.40 538.54,317.40 538.78,317.40 539.01,317.40 539.24,317.40 539.48,317.40 539.71,317.40 539.94,317.40 540.18,317.40 540.41,317.40 540.65,317.40 540.88,317.40 541.11,317.40 541.35,317.40 541.58,317.40 541.81,317.40 542.05,317.40 542.28,317.40 542.51,317.40 542.75,317.40 542.98,317.40 543.22,317.40 543.45,317.40 543.68,317.40"/>
<line x1="310.10" y1="317.40" x2="543.80" y2="317.40" stroke="#9a9a9a" stroke-width="0.8"/>
<polyline fill="none" stroke="#ff7070" stroke-width="0.80" stroke-linejoin="miter" stroke-miterlimit="2"  points="310.10,260.45 311.74,260.45 311.74,203.50 315.48,203.50 315.48,260.45 323.42,260.45 323.42,317.40 326.93,317.40 326.93,260.45 330.20,260.45 330.20,203.50 332.30,203.50 332.30,317.40 333.94,317.40 333.94,260.45 336.51,260.45 336.51,317.40 343.52,317.40 343.52,203.50 345.86,203.50 345.86,317.40 349.36,317.40 349.36,203.50 351.70,203.50 351.70,317.40 361.05,317.40 361.05,260.45 364.08,260.45 364.08,203.50 366.42,203.50 366.42,260.45 368.06,260.45 368.06,203.50 369.69,203.50 369.69,260.45 372.73,260.45 372.73,317.40 377.41,317.40 377.41,260.45 386.52,260.45 386.52,317.40 396.10,317.40 396.10,260.45 399.61,260.45 399.61,203.50 401.71,203.50 401.71,260.45 404.75,260.45 404.75,317.40 411.29,317.40 411.29,260.45 414.80,260.45 414.80,203.50 416.90,203.50 416.90,260.45 418.07,260.45 418.07,317.40 429.99,317.40 429.99,260.45 435.13,260.45 435.13,203.50 437.00,203.50 437.00,260.45 442.84,260.45 442.84,317.40 445.18,317.40 445.18,260.45 448.45,260.45 448.45,203.50 450.32,203.50 450.32,260.45 455.46,260.45 455.46,317.40 463.64,317.40 463.64,260.45 467.38,260.45 467.38,317.40 474.86,317.40 474.86,260.45 482.34,260.45 482.34,203.50 484.67,203.50 484.67,260.45 488.18,260.45 488.18,317.40 497.99,317.40 497.99,260.45 502.90,260.45 502.90,317.40 508.75,317.40 508.75,260.45 517.86,260.45 517.86,203.50 519.73,203.50 519.73,260.45 521.60,260.45 521.60,203.50 523.70,203.50 523.70,260.45 525.57,260.45 525.57,317.40 530.95,317.40 530.95,203.50 533.05,203.50 533.05,317.40 543.80,317.40"/>
<rect x="369.50" y="180.30" width="81.40" height="10.00" fill="#fff" stroke="#8c8c8c" stroke-width="0.8"/>
<line x1="375.70" y1="185.30" x2="383.70" y2="185.30" stroke="#3a3a3a" stroke-width="0.90"/>
<text class="lg" transform="translate(384.50,187.80) scale(1,1.1)">value</text>
<line x1="404.50" y1="185.30" x2="412.70" y2="185.30" stroke="#ff6a6a" stroke-width="1.1"/>
<text class="lg" transform="translate(413.50,187.80) scale(1,1.1)">bit pack size</text>
<polyline fill="none" stroke="#333" stroke-width="0.50" stroke-linejoin="miter" stroke-miterlimit="2"  points="38.62,499.66 38.85,499.59 39.08,498.93 39.31,498.21 39.54,499.34 39.77,498.52 40.00,500.57 40.23,499.03 40.46,499.71 40.69,498.68 40.92,500.54 41.16,499.05 41.39,498.39 41.62,500.35 41.85,499.82 42.08,498.07 42.31,495.90 42.54,498.70 42.77,500.42 43.00,498.86 43.23,499.36 43.46,500.69 43.70,493.07 43.93,484.75 44.16,494.29 44.39,500.69 44.62,500.88 44.85,500.20 45.08,499.75 45.31,497.33 45.54,495.01 45.77,499.27 46.00,500.57 46.24,498.96 46.47,500.71 46.70,494.66 46.93,482.50 47.16,467.20 47.39,478.29 47.62,491.53 47.85,500.21 48.08,499.44 48.31,500.68 48.54,498.58 48.78,493.95 49.01,497.68 49.24,499.52 49.47,499.97 49.70,500.26 49.93,498.83 50.16,492.56 50.39,481.04 50.62,487.32 50.85,493.44 51.08,499.84 51.31,498.97 51.55,499.99 51.78,498.91 52.01,499.15 52.24,495.02 52.47,497.35 52.70,500.24 52.93,500.75 53.16,498.42 53.39,499.61 53.62,499.89 53.85,499.74 54.09,496.72 54.32,493.75 54.55,497.28 54.78,500.08 55.01,500.65 55.24,499.60 55.47,499.15 55.70,499.69 55.93,499.05 56.16,496.12 56.39,496.12 56.63,498.74 56.86,498.78 57.09,498.88 57.32,499.85 57.55,498.09 57.78,498.86 58.01,497.48 58.24,495.03 58.47,496.51 58.70,498.71 58.93,499.51 59.17,498.62 59.40,499.27 59.63,498.98 59.86,500.13 60.09,500.19 60.32,498.39 60.55,495.40 60.78,495.02 61.01,497.69 61.24,498.64 61.47,499.51 61.71,499.05 61.94,498.82 62.17,498.48 62.40,498.34 62.63,498.81 62.86,499.54 63.09,499.58 63.32,498.73 63.55,499.10 63.78,489.91 64.01,478.13 64.25,491.69 64.48,500.82 64.71,499.01 64.94,499.00 65.17,499.47 65.40,499.62 65.63,498.36 65.86,493.82 66.09,481.34 66.32,487.32 66.55,494.28 66.79,500.38 67.02,497.96 67.25,492.99 67.48,496.37 67.71,498.57 67.94,498.38 68.17,500.32 68.40,499.56 68.63,497.87 68.86,493.35 69.09,493.30 69.33,497.40 69.56,500.99 69.79,498.52 70.02,498.26 70.25,496.53 70.48,498.20 70.71,498.05 70.94,499.93 71.17,500.19 71.40,500.70 71.63,500.16 71.87,500.26 72.10,497.28 72.33,494.21 72.56,498.38 72.79,499.13 73.02,498.22 73.25,498.87 73.48,498.64 73.71,496.11 73.94,496.86 74.17,498.26 74.40,499.60 74.64,495.63 74.87,487.26 75.10,478.84 75.33,489.07 75.56,496.47 75.79,500.39 76.02,496.39 76.25,493.20 76.48,495.19 76.71,499.56 76.94,499.99 77.18,500.29 77.41,493.34 77.64,484.66 77.87,479.34 78.10,491.07 78.33,498.58 78.56,498.14 78.79,499.51 79.02,497.83 79.25,490.81 79.48,481.34 79.72,490.57 79.95,497.89 80.18,496.94 80.41,490.56 80.64,485.27 80.87,480.12 81.10,488.78 81.33,501.00 81.56,501.00 81.79,501.00 82.02,501.00 82.26,501.00 82.49,501.00 82.72,501.00 82.95,501.00 83.18,501.00 83.41,501.00 83.64,501.00 83.87,501.00 84.10,501.00 84.33,501.00 84.56,501.00 84.80,501.00 85.03,501.00 85.26,501.00 85.49,501.00 85.72,501.00 85.95,501.00 86.18,501.00 86.41,501.00 86.64,501.00 86.87,501.00 87.10,501.00 87.34,501.00 87.57,501.00 87.80,501.00 88.03,501.00 88.26,501.00 88.49,501.00 88.72,501.00 88.95,501.00 89.18,501.00 89.41,501.00 89.64,501.00 89.88,501.00 90.11,501.00 90.34,501.00 90.57,501.00 90.80,501.00 91.03,501.00 91.26,501.00 91.49,501.00 91.72,501.00 91.95,501.00 92.18,501.00 92.42,501.00 92.65,501.00 92.88,501.00 93.11,501.00 93.34,501.00 93.57,501.00 93.80,501.00 94.03,501.00 94.26,501.00 94.49,501.00 94.72,501.00 94.96,501.00 95.19,501.00 95.42,501.00 95.65,501.00 95.88,501.00 96.11,501.00 96.34,501.00 96.57,501.00 96.80,501.00 97.03,501.00 97.26,501.00 97.49,501.00 97.73,501.00 97.96,501.00 98.19,501.00 98.42,501.00 98.65,501.00 98.88,501.00 99.11,501.00 99.34,501.00 99.57,501.00 99.80,501.00 100.03,501.00 100.27,501.00 100.50,501.00 100.73,501.00 100.96,501.00 101.19,501.00 101.42,501.00 101.65,501.00 101.88,501.00 102.11,501.00 102.34,501.00 102.57,501.00 102.81,501.00 103.04,501.00 103.27,501.00 103.50,501.00 103.73,501.00 103.96,501.00 104.19,461.48 104.42,447.55 104.65,472.11 104.88,485.41 105.11,499.09 105.35,492.12 105.58,477.03 105.81,483.80 106.04,493.78 106.27,500.62 106.50,496.72 106.73,491.86 106.96,495.45 107.19,499.42 107.42,499.22 107.65,497.31 107.89,492.53 108.12,487.65 108.35,483.65 108.58,491.40 108.81,495.33 109.04,497.30 109.27,492.25 109.50,497.20 109.73,500.33 109.96,500.00 110.19,498.37 110.43,493.03 110.66,496.00 110.89,498.13 111.12,498.57 111.35,500.34 111.58,500.13 111.81,499.53 112.04,497.45 112.27,494.94 112.50,497.09 112.73,499.86 112.97,500.58 113.20,500.82 113.43,493.60 113.66,473.82 113.89,480.62 114.12,494.28 114.35,498.79 114.58,499.03 114.81,499.89 115.04,500.46 115.27,498.51 115.51,491.75 115.74,484.76 115.97,477.53 116.20,489.96 116.43,498.35 116.66,499.90 116.89,498.41 117.12,495.43 117.35,494.98 117.58,497.59 117.81,500.90 118.05,498.28 118.28,495.40 118.51,489.66 118.74,483.65 118.97,488.97 119.20,493.77 119.43,498.92 119.66,498.29 119.89,497.79 120.12,495.27 120.35,494.13 120.58,496.89 120.82,499.73 121.05,498.25 121.28,496.56 121.51,481.02 121.74,462.79 121.97,479.30 122.20,493.41 122.43,500.42 122.66,500.27 122.89,498.68 123.12,494.73 123.36,493.50 123.59,497.50 123.82,500.71 124.05,498.80 124.28,491.55 124.51,484.36 124.74,477.53 124.97,488.45 125.20,496.73 125.43,499.32 125.66,498.82 125.90,498.68 126.13,496.34 126.36,495.40 126.59,498.23 126.82,499.50 127.05,498.61 127.28,493.72 127.51,491.56 127.74,495.98 127.97,500.88 128.20,500.65 128.44,498.12 128.67,498.25 128.90,498.44 129.13,497.72 129.36,497.03 129.59,499.24 129.82,500.36 130.05,500.58 130.28,500.25 130.51,499.07 130.74,500.83 130.98,498.99 131.21,500.08 131.44,498.05 131.67,495.77 131.90,498.25 132.13,499.11 132.36,500.52 132.59,499.79 132.82,499.97 133.05,498.16 133.28,497.09 133.52,498.44 133.75,499.92 133.98,498.85 134.21,500.74 134.44,499.75 134.67,499.80 134.90,499.64 135.13,498.85 135.36,498.55 135.59,500.08 135.82,499.90 136.06,500.56 136.29,499.46 136.52,500.68 136.75,498.62 136.98,500.17 137.21,498.05 137.44,499.12 137.67,498.26 137.90,498.33 138.13,498.56 138.36,498.68 138.60,499.80 138.83,498.55 139.06,499.07 139.29,497.29 139.52,499.64 139.75,498.86 139.98,500.88 140.21,498.76 140.44,498.52 140.67,499.23 140.90,499.15 141.14,499.76 141.37,483.46 141.60,452.26 141.83,472.75 142.06,494.51 142.29,498.74 142.52,496.92 142.75,494.81 142.98,497.28 143.21,499.67 143.44,499.49 143.67,497.34 143.91,495.35 144.14,498.63 144.37,499.51 144.60,498.19 144.83,498.46 145.06,495.44 145.29,493.56 145.52,496.46 145.75,498.29 145.98,498.67 146.21,500.81 146.45,498.27 146.68,484.95 146.91,470.91 147.14,491.30 147.37,500.38 147.60,499.50 147.83,500.13 148.06,498.44 148.29,490.95 148.52,482.27 148.75,477.03 148.99,490.64 149.22,498.42 149.45,499.28 149.68,500.37 149.91,496.47 150.14,493.35 150.37,493.63 150.60,496.88 150.83,499.69 151.06,498.80 151.29,498.57 151.53,499.11 151.76,499.27 151.99,491.37 152.22,483.75 152.45,466.10 152.68,474.28 152.91,482.24 153.14,493.12 153.37,499.80 153.60,494.16 153.83,492.66 154.07,498.13 154.30,499.15 154.53,500.60 154.76,495.66 154.99,491.28 155.22,485.86 155.45,493.62 155.68,499.33 155.91,497.57 156.14,494.98 156.37,495.13 156.61,497.77 156.84,500.68 157.07,497.37 157.30,487.15 157.53,474.52 157.76,457.37 157.99,469.30 158.22,477.81 158.45,488.79 158.68,499.99 158.91,499.70 159.15,494.58 159.38,495.30 159.61,498.80 159.84,498.81 160.07,498.45 160.30,486.09 160.53,468.31 160.76,482.44 160.99,496.27 161.22,499.36 161.45,498.16 161.69,494.78 161.92,496.25 162.15,498.40 162.38,500.23 162.61,498.80 162.84,494.44 163.07,487.49 163.30,475.93 163.53,482.98 163.76,491.60 163.99,499.57 164.23,498.94 164.46,499.71 164.69,494.82 164.92,497.50 165.15,500.77 165.38,498.84 165.61,489.26 165.84,470.51 166.07,479.99 166.30,490.25 166.53,498.94 166.76,500.71 167.00,499.93 167.23,498.58 167.46,497.46 167.69,493.92 167.92,495.70 168.15,499.48 168.38,498.49 168.61,493.90 168.84,486.57 169.07,481.06 169.30,473.16 169.54,484.86 169.77,501.00 170.00,501.00 170.23,501.00 170.46,501.00 170.69,501.00 170.92,501.00 171.15,501.00 171.38,501.00 171.61,501.00 171.84,501.00 172.08,501.00 172.31,501.00 172.54,501.00 172.77,501.00 173.00,501.00 173.23,501.00 173.46,501.00 173.69,501.00 173.92,501.00 174.15,501.00 174.38,501.00 174.62,501.00 174.85,501.00 175.08,501.00 175.31,501.00 175.54,501.00 175.77,501.00 176.00,501.00 176.23,501.00 176.46,501.00 176.69,501.00 176.92,501.00 177.16,501.00 177.39,501.00 177.62,501.00 177.85,501.00 178.08,501.00 178.31,501.00 178.54,501.00 178.77,501.00 179.00,501.00 179.23,501.00 179.46,501.00 179.70,501.00 179.93,501.00 180.16,486.04 180.39,479.25 180.62,488.13 180.85,495.06 181.08,494.38 181.31,492.74 181.54,497.04 181.77,499.97 182.00,495.72 182.24,490.34 182.47,480.34 182.70,486.87 182.93,492.57 183.16,497.98 183.39,499.55 183.62,500.45 183.85,498.08 184.08,494.85 184.31,493.69 184.54,497.28 184.78,500.01 185.01,489.12 185.24,477.39 185.47,461.29 185.70,472.64 185.93,483.20 186.16,494.30 186.39,493.26 186.62,485.36 186.85,488.60 187.08,492.16 187.32,493.13 187.55,487.52 187.78,482.55 188.01,490.17 188.24,494.55 188.47,499.87 188.70,493.57 188.93,482.55 189.16,487.66 189.39,494.47 189.62,498.92 189.85,500.54 190.09,496.66 190.32,495.25 190.55,499.79 190.78,498.12 191.01,496.95 191.24,490.30 191.47,497.52 191.70,498.83 191.93,500.42 192.16,500.68 192.39,499.85 192.63,496.93 192.86,496.64 193.09,499.13 193.32,500.58 193.55,491.92 193.78,478.13 194.01,487.69 194.24,497.36 194.47,498.86 194.70,498.71 194.93,498.48 195.17,493.61 195.40,496.24 195.63,500.71 195.86,498.69 196.09,499.14 196.32,480.35 196.55,453.66 196.78,483.84 197.01,500.46 197.24,498.70 197.47,498.45 197.71,492.84 197.94,497.28 198.17,498.22 198.40,500.70 198.63,499.40 198.86,494.44 199.09,481.31 199.32,465.70 199.55,479.32 199.78,493.49 200.01,500.64 200.25,499.95 200.48,498.75 200.71,491.17 200.94,485.86 201.17,498.02 201.40,500.34 201.63,498.22 201.86,498.23 202.09,494.01 202.32,493.97 202.55,497.37 202.79,499.61 203.02,500.33 203.25,499.96 203.48,487.90 203.71,472.32 203.94,486.55 204.17,498.53 204.40,498.48 204.63,495.59 204.86,496.21 205.09,499.73 205.33,500.17 205.56,499.31 205.79,495.60 206.02,497.88 206.25,498.25 206.48,500.83 206.71,498.32 206.94,497.77 207.17,495.66 207.40,497.29 207.63,498.81 207.87,500.70 208.10,500.31 208.33,499.98 208.56,498.33 208.79,497.45 209.02,499.20 209.25,499.02 209.48,498.67 209.71,500.42 209.94,499.43 210.17,497.29 210.41,498.70 210.64,500.31 210.87,499.54 211.10,497.40 211.33,493.23 211.56,497.27 211.79,500.98 212.02,499.62 212.25,499.03 212.48,498.74 212.71,495.71 212.94,498.74 213.18,500.92 213.41,498.98 213.64,499.54 213.87,497.20 214.10,495.33 214.33,497.32 214.56,499.14 214.79,499.92 215.02,499.45 215.25,500.38 215.48,499.75 215.72,498.55 215.95,498.55 216.18,499.51 216.41,499.50 216.64,499.06 216.87,500.02 217.10,500.11 217.33,499.12 217.56,500.88 217.79,498.38 218.02,499.96 218.26,498.95 218.49,498.27 218.72,499.05 218.95,498.31 219.18,499.18 219.41,498.94 219.64,498.99 219.87,499.03 220.10,498.74 220.33,498.92 220.56,498.71 220.80,499.06 221.03,498.57 221.26,499.34 221.49,500.11 221.72,500.06 221.95,499.10 222.18,498.40 222.41,499.27 222.64,498.60 222.87,498.28 223.10,500.73 223.34,499.25 223.57,491.07 223.80,480.11 224.03,471.62 224.26,491.49 224.49,500.99 224.72,498.74 224.95,493.07 225.18,495.47 225.41,498.87 225.64,493.56 225.88,487.91 226.11,479.24 226.34,485.73 226.57,493.15 226.80,498.52 227.03,500.25 227.26,494.96 227.49,489.99 227.72,481.34 227.95,490.09 228.18,495.43 228.42,499.56 228.65,499.91 228.88,498.54 229.11,492.99 229.34,493.13 229.57,498.79 229.80,499.86 230.03,498.20 230.26,483.25 230.49,465.00 230.72,479.48 230.96,495.57 231.19,498.11 231.42,494.07 231.65,486.94 231.88,477.13 232.11,471.62 232.34,483.94 232.57,493.20 232.80,499.75 233.03,498.38 233.26,498.06 233.50,493.61 233.73,489.49 233.96,494.62 234.19,498.50 234.42,499.97 234.65,492.88 234.88,474.69 235.11,457.82 235.34,440.53 235.57,462.32 235.80,480.81 236.03,496.00 236.27,496.35 236.50,491.07 236.73,484.38 236.96,471.62 237.19,479.75 237.42,487.55 237.65,485.36 237.88,489.38 238.11,494.09 238.34,484.40 238.57,463.89 238.81,479.81 239.04,494.46 239.27,496.63 239.50,491.51 239.73,485.36 239.96,491.28 240.19,497.11 240.42,493.10 240.65,482.99 240.88,473.82 241.11,488.07 241.35,499.13 241.58,492.82 241.81,480.34 242.04,491.43 242.27,498.31 242.50,499.23 242.73,498.36 242.96,493.68 243.19,496.50 243.42,499.02 243.65,490.73 243.89,478.38 244.12,467.20 244.35,490.25 244.58,494.80 244.81,490.34 245.04,495.07 245.27,489.18 245.50,473.82 245.73,481.97 245.96,489.36 246.19,501.00 246.43,501.00 246.66,501.00 246.89,501.00 247.12,501.00 247.35,501.00 247.58,501.00 247.81,501.00 248.04,501.00 248.27,501.00 248.50,501.00 248.73,501.00 248.97,501.00 249.20,501.00 249.43,501.00 249.66,501.00 249.89,501.00 250.12,501.00 250.35,501.00 250.58,501.00 250.81,501.00 251.04,501.00 251.27,501.00 251.51,501.00 251.74,501.00 251.97,501.00 252.20,501.00 252.43,501.00 252.66,501.00 252.89,501.00 253.12,501.00 253.35,501.00 253.58,501.00 253.81,501.00 254.05,501.00 254.28,501.00 254.51,501.00 254.74,501.00 254.97,501.00 255.20,501.00 255.43,501.00 255.66,501.00 255.89,501.00 256.12,501.00 256.35,501.00 256.59,501.00 256.82,501.00 257.05,501.00 257.28,501.00 257.51,501.00 257.74,501.00 257.97,501.00 258.20,501.00 258.43,501.00 258.66,501.00 258.89,501.00 259.12,501.00 259.36,501.00 259.59,501.00 259.82,501.00 260.05,501.00 260.28,501.00 260.51,501.00 260.74,501.00 260.97,501.00 261.20,501.00 261.43,501.00 261.66,501.00 261.90,501.00 262.13,501.00 262.36,501.00 262.59,501.00 262.82,501.00 263.05,501.00 263.28,501.00 263.51,501.00 263.74,501.00 263.97,501.00 264.20,501.00 264.44,501.00 264.67,501.00 264.90,501.00 265.13,501.00 265.36,501.00 265.59,501.00 265.82,501.00 266.05,501.00 266.28,501.00 266.51,501.00 266.74,501.00 266.98,501.00 267.21,501.00 267.44,501.00 267.67,501.00 267.90,501.00 268.13,501.00 268.36,501.00 268.59,501.00 268.82,501.00 269.05,501.00 269.28,501.00"/>
<line x1="38.50" y1="501.00" x2="269.40" y2="501.00" stroke="#9a9a9a" stroke-width="0.8"/>
<polyline fill="none" stroke="#ff5a5a" stroke-width="0.60" stroke-linejoin="miter" stroke-miterlimit="2"  points="38.50,497.44 42.40,497.44 42.40,472.49 47.40,472.49 47.40,443.98 47.65,443.98 47.65,472.49 51.10,472.49 51.10,486.75 61.60,486.75 61.60,472.49 70.30,472.49 70.30,486.75 73.10,486.75 73.10,472.49 80.45,472.49 80.45,386.97 80.75,386.97 80.75,501.00 104.40,501.00 104.40,443.98 106.80,443.98 106.80,472.49 113.00,472.49 113.00,499.22 114.00,499.22 114.00,472.49 116.20,472.49 116.20,499.22 117.20,499.22 117.20,472.49 120.90,472.49 120.90,443.98 122.70,443.98 122.70,472.49 127.90,472.49 127.90,493.87 131.20,493.87 131.20,486.75 135.20,486.75 135.20,493.87 139.20,493.87 139.20,486.75 140.90,486.75 140.90,443.98 141.40,443.98 141.40,486.75 145.60,486.75 145.60,443.98 147.00,443.98 147.00,472.49 150.20,472.49 150.20,499.22 151.50,499.22 151.50,443.98 155.40,443.98 155.40,499.22 156.70,499.22 156.70,443.98 161.30,443.98 161.30,497.44 163.90,497.44 163.90,472.49 165.80,472.49 165.80,443.98 169.70,443.98 169.70,501.00 180.20,501.00 180.20,443.98 183.60,443.98 183.60,472.49 184.80,472.49 184.80,443.98 187.10,443.98 187.10,472.49 190.60,472.49 190.60,472.49 196.40,472.49 196.40,443.98 199.20,443.98 199.20,472.49 202.20,472.49 202.20,443.98 204.50,443.98 204.50,486.75 206.80,486.75 206.80,493.87 208.50,493.87 208.50,486.75 209.60,486.75 209.60,493.87 211.50,493.87 211.50,486.75 216.10,486.75 216.10,499.22 223.10,499.22 223.10,443.98 225.40,443.98 225.40,472.49 228.90,472.49 228.90,443.98 231.20,443.98 231.20,501.00 235.20,501.00 235.20,386.97 235.50,386.97 235.50,472.49 238.20,472.49 238.20,443.98 241.00,443.98 241.00,472.49 243.30,472.49 243.30,443.98 245.60,443.98 245.60,501.00 269.40,501.00"/>
<rect x="95.00" y="364.40" width="81.00" height="10.00" fill="#fff" stroke="#8c8c8c" stroke-width="0.8"/>
<line x1="101.20" y1="369.40" x2="109.20" y2="369.40" stroke="#3a3a3a" stroke-width="0.90"/>
<text class="lg" transform="translate(110.00,371.90) scale(1,1.1)">value</text>
<line x1="130.00" y1="369.40" x2="138.20" y2="369.40" stroke="#ff6a6a" stroke-width="1.1"/>
<text class="lg" transform="translate(139.00,371.90) scale(1,1.1)">bit pack size</text>
<polyline fill="none" stroke="#8a8a8a" stroke-width="0.30" stroke-linejoin="miter" stroke-miterlimit="2"  points="310.22,464.63 310.45,464.63 310.68,464.63 310.92,464.63 311.15,464.63 311.39,464.63 311.62,497.30 311.85,497.30 312.09,497.30 312.32,497.30 312.55,431.78 312.79,399.10 313.02,431.78 313.25,399.10 313.49,431.78 313.72,464.63 313.96,431.78 314.19,431.78 314.42,431.78 314.66,464.63 314.89,497.30 315.12,464.63 315.36,464.63 315.59,497.30 315.83,464.63 316.06,497.30 316.29,464.63 316.53,464.63 316.76,464.63 316.99,464.63 317.23,464.63 317.46,464.63 317.70,464.63 317.93,464.63 318.16,464.63 318.40,464.63 318.63,464.63 318.86,464.63 319.10,464.63 319.33,464.63 319.56,464.63 319.80,497.30 320.03,497.30 320.27,464.63 320.50,464.63 320.73,464.63 320.97,464.63 321.20,464.63 321.43,464.63 321.67,464.63 321.90,497.30 322.14,464.63 322.37,497.30 322.60,497.30 322.84,497.30 323.07,497.30 323.30,497.30 323.54,497.30 323.77,497.30 324.01,497.30 324.24,497.30 324.47,497.30 324.71,497.30 324.94,497.30 325.17,497.30 325.41,497.30 325.64,497.30 325.87,497.30 326.11,497.30 326.34,497.30 326.58,497.30 326.81,497.30 327.04,497.30 327.28,497.30 327.51,497.30 327.74,497.30 327.98,497.30 328.21,464.63 328.45,464.63 328.68,464.63 328.91,464.63 329.15,497.30 329.38,497.30 329.61,497.30 329.85,497.30 330.08,464.63 330.32,464.63 330.55,464.63 330.78,464.63 331.02,497.30 331.25,497.30 331.48,431.78 331.72,464.63 331.95,497.30 332.18,497.30 332.42,497.30 332.65,497.30 332.89,497.30 333.12,497.30 333.35,497.30 333.59,497.30 333.82,497.30 334.05,497.30 334.29,464.63 334.52,464.63 334.76,497.30 334.99,497.30 335.22,497.30 335.46,497.30 335.69,497.30 335.92,497.30 336.16,497.30 336.39,497.30 336.62,497.30 336.86,497.30 337.09,497.30 337.33,497.30 337.56,497.30 337.79,497.30 338.03,497.30 338.26,497.30 338.49,497.30 338.73,497.30 338.96,497.30 339.20,497.30 339.43,497.30 339.66,497.30 339.90,497.30 340.13,497.30 340.36,497.30 340.60,497.30 340.83,497.30 341.07,497.30 341.30,497.30 341.53,497.30 341.77,497.30 342.00,497.30 342.23,497.30 342.47,497.30 342.70,497.30 342.93,497.30 343.17,497.30 343.40,497.30 343.64,464.63 343.87,464.63 344.10,497.30 344.34,497.30 344.57,431.78 344.80,464.63 345.04,497.30 345.27,497.30 345.51,497.30 345.74,497.30 345.97,464.63 346.21,497.30 346.44,497.30 346.67,497.30 346.91,497.30 347.14,497.30 347.38,497.30 347.61,497.30 347.84,497.30 348.08,497.30 348.31,497.30 348.54,497.30 348.78,497.30 349.01,497.30 349.24,464.63 349.48,464.63 349.71,464.63 349.95,431.78 350.18,464.63 350.41,464.63 350.65,464.63 350.88,497.30 351.11,497.30 351.35,497.30 351.58,464.63 351.82,497.30 352.05,497.30 352.28,497.30 352.52,497.30 352.75,497.30 352.98,497.30 353.22,497.30 353.45,497.30 353.69,497.30 353.92,497.30 354.15,497.30 354.39,497.30 354.62,497.30 354.85,497.30 355.09,497.30 355.32,497.30 355.55,497.30 355.79,497.30 356.02,497.30 356.26,497.30 356.49,497.30 356.72,497.30 356.96,497.30 357.19,497.30 357.42,497.30 357.66,497.30 357.89,497.30 358.13,497.30 358.36,497.30 358.59,497.30 358.83,497.30 359.06,497.30 359.29,497.30 359.53,497.30 359.76,497.30 359.99,497.30 360.23,497.30 360.46,497.30 360.70,497.30 360.93,497.30 361.16,497.30 361.40,497.30 361.63,497.30 361.86,497.30 362.10,497.30 362.33,464.63 362.57,464.63 362.80,464.63 363.03,497.30 363.27,464.63 363.50,464.63 363.73,464.63 363.97,464.63 364.20,464.63 364.44,464.63 364.67,464.63 364.90,431.78 365.14,464.63 365.37,464.63 365.60,497.30 365.84,464.63 366.07,464.63 366.30,464.63 366.54,464.63 366.77,497.30 367.01,497.30 367.24,497.30 367.47,464.63 367.71,464.63 367.94,464.63 368.17,464.63 368.41,464.63 368.64,431.78 368.88,464.63 369.11,464.63 369.34,464.63 369.58,464.63 369.81,464.63 370.04,464.63 370.28,464.63 370.51,464.63 370.75,464.63 370.98,497.30 371.21,497.30 371.45,497.30 371.68,497.30 371.91,497.30 372.15,497.30 372.38,497.30 372.61,497.30 372.85,497.30 373.08,497.30 373.32,497.30 373.55,497.30 373.78,497.30 374.02,497.30 374.25,497.30 374.48,497.30 374.72,497.30 374.95,497.30 375.19,497.30 375.42,497.30 375.65,497.30 375.89,497.30 376.12,497.30 376.35,497.30 376.59,497.30 376.82,497.30 377.06,464.63 377.29,497.30 377.52,497.30 377.76,497.30 377.99,497.30 378.22,497.30 378.46,497.30 378.69,497.30 378.92,464.63 379.16,497.30 379.39,497.30 379.63,497.30 379.86,464.63 380.09,497.30 380.33,497.30 380.56,497.30 380.79,464.63 381.03,464.63 381.26,464.63 381.50,464.63 381.73,464.63 381.96,464.63 382.20,464.63 382.43,497.30 382.66,464.63 382.90,497.30 383.13,497.30 383.36,497.30 383.60,497.30 383.83,464.63 384.07,464.63 384.30,464.63 384.53,464.63 384.77,464.63 385.00,464.63 385.23,497.30 385.47,497.30 385.70,497.30 385.94,464.63 386.17,497.30 386.40,497.30 386.64,497.30 386.87,497.30 387.10,497.30 387.34,497.30 387.57,497.30 387.81,497.30 388.04,497.30 388.27,497.30 388.51,497.30 388.74,497.30 388.97,497.30 389.21,497.30 389.44,497.30 389.67,497.30 389.91,497.30 390.14,497.30 390.38,497.30 390.61,497.30 390.84,497.30 391.08,497.30 391.31,497.30 391.54,497.30 391.78,497.30 392.01,497.30 392.25,497.30 392.48,497.30 392.71,497.30 392.95,497.30 393.18,497.30 393.41,497.30 393.65,497.30 393.88,497.30 394.12,497.30 394.35,497.30 394.58,497.30 394.82,497.30 395.05,497.30 395.28,497.30 395.52,497.30 395.75,497.30 395.98,464.63 396.22,464.63 396.45,464.63 396.69,464.63 396.92,464.63 397.15,464.63 397.39,464.63 397.62,464.63 397.85,464.63 398.09,464.63 398.32,464.63 398.56,464.63 398.79,464.63 399.02,464.63 399.26,464.63 399.49,464.63 399.72,497.30 399.96,431.78 400.19,497.30 400.43,497.30 400.66,497.30 400.89,497.30 401.13,497.30 401.36,497.30 401.59,497.30 401.83,497.30 402.06,464.63 402.29,464.63 402.53,497.30 402.76,497.30 403.00,497.30 403.23,497.30 403.46,497.30 403.70,497.30 403.93,497.30 404.16,497.30 404.40,497.30 404.63,464.63 404.87,464.63 405.10,497.30 405.33,497.30 405.57,497.30 405.80,497.30 406.03,497.30 406.27,497.30 406.50,497.30 406.73,497.30 406.97,497.30 407.20,497.30 407.44,497.30 407.67,497.30 407.90,497.30 408.14,497.30 408.37,497.30 408.60,497.30 408.84,497.30 409.07,497.30 409.31,497.30 409.54,497.30 409.77,497.30 410.01,497.30 410.24,497.30 410.47,497.30 410.71,497.30 410.94,464.63 411.18,464.63 411.41,497.30 411.64,497.30 411.88,497.30 412.11,497.30 412.34,497.30 412.58,497.30 412.81,497.30 413.04,464.63 413.28,464.63 413.51,464.63 413.75,464.63 413.98,464.63 414.21,464.63 414.45,464.63 414.68,464.63 414.91,497.30 415.15,497.30 415.38,497.30 415.62,431.78 415.85,497.30 416.08,497.30 416.32,497.30 416.55,464.63 416.78,464.63 417.02,464.63 417.25,464.63 417.49,464.63 417.72,464.63 417.95,464.63 418.19,464.63 418.42,464.63 418.65,497.30 418.89,497.30 419.12,497.30 419.35,497.30 419.59,497.30 419.82,497.30 420.06,497.30 420.29,497.30 420.52,497.30 420.76,497.30 420.99,497.30 421.22,497.30 421.46,497.30 421.69,497.30 421.93,497.30 422.16,497.30 422.39,497.30 422.63,497.30 422.86,497.30 423.09,497.30 423.33,497.30 423.56,497.30 423.80,497.30 424.03,497.30 424.26,497.30 424.50,497.30 424.73,497.30 424.96,497.30 425.20,497.30 425.43,497.30 425.66,497.30 425.90,497.30 426.13,497.30 426.37,497.30 426.60,497.30 426.83,497.30 427.07,497.30 427.30,497.30 427.53,497.30 427.77,497.30 428.00,497.30 428.24,497.30 428.47,497.30 428.70,497.30 428.94,497.30 429.17,497.30 429.40,497.30 429.64,497.30 429.87,497.30 430.10,464.63 430.34,464.63 430.57,497.30 430.81,464.63 431.04,464.63 431.27,497.30 431.51,497.30 431.74,497.30 431.97,497.30 432.21,497.30 432.44,464.63 432.68,497.30 432.91,497.30 433.14,464.63 433.38,464.63 433.61,464.63 433.84,497.30 434.08,464.63 434.31,464.63 434.55,464.63 434.78,464.63 435.01,464.63 435.25,464.63 435.48,464.63 435.71,431.78 435.95,497.30 436.18,497.30 436.41,464.63 436.65,497.30 436.88,497.30 437.12,497.30 437.35,464.63 437.58,464.63 437.82,464.63 438.05,464.63 438.28,464.63 438.52,464.63 438.75,464.63 438.99,464.63 439.22,464.63 439.45,464.63 439.69,497.30 439.92,497.30 440.15,497.30 440.39,464.63 440.62,464.63 440.86,464.63 441.09,464.63 441.32,464.63 441.56,464.63 441.79,464.63 442.02,464.63 442.26,464.63 442.49,464.63 442.72,464.63 442.96,497.30 443.19,497.30 443.43,464.63 443.66,497.30 443.89,497.30 444.13,497.30 444.36,497.30 444.59,497.30 444.83,497.30 445.06,464.63 445.30,464.63 445.53,497.30 445.76,497.30 446.00,497.30 446.23,497.30 446.46,497.30 446.70,497.30 446.93,497.30 447.17,497.30 447.40,497.30 447.63,497.30 447.87,464.63 448.10,464.63 448.33,464.63 448.57,464.63 448.80,464.63 449.03,497.30 449.27,497.30 449.50,464.63 449.74,431.78 449.97,497.30 450.20,497.30 450.44,497.30 450.67,464.63 450.90,497.30 451.14,497.30 451.37,497.30 451.61,497.30 451.84,497.30 452.07,497.30 452.31,497.30 452.54,497.30 452.77,464.63 453.01,464.63 453.24,464.63 453.47,464.63 453.71,464.63 453.94,464.63 454.18,464.63 454.41,464.63 454.64,464.63 454.88,464.63 455.11,464.63 455.34,497.30 455.58,497.30 455.81,497.30 456.05,497.30 456.28,497.30 456.51,497.30 456.75,497.30 456.98,497.30 457.21,497.30 457.45,497.30 457.68,497.30 457.92,497.30 458.15,497.30 458.38,497.30 458.62,497.30 458.85,497.30 459.08,497.30 459.32,497.30 459.55,497.30 459.78,497.30 460.02,497.30 460.25,497.30 460.49,497.30 460.72,497.30 460.95,497.30 461.19,497.30 461.42,497.30 461.65,497.30 461.89,497.30 462.12,497.30 462.36,497.30 462.59,497.30 462.82,497.30 463.06,497.30 463.29,497.30 463.52,497.30 463.76,497.30 463.99,464.63 464.23,464.63 464.46,464.63 464.69,464.63 464.93,464.63 465.16,464.63 465.39,464.63 465.63,464.63 465.86,464.63 466.09,464.63 466.33,464.63 466.56,497.30 466.80,497.30 467.03,497.30 467.26,497.30 467.50,464.63 467.73,497.30 467.96,497.30 468.20,497.30 468.43,497.30 468.67,497.30 468.90,497.30 469.13,497.30 469.37,497.30 469.60,497.30 469.83,497.30 470.07,497.30 470.30,497.30 470.54,497.30 470.77,497.30 471.00,497.30 471.24,497.30 471.47,497.30 471.70,497.30 471.94,497.30 472.17,497.30 472.40,497.30 472.64,497.30 472.87,497.30 473.11,497.30 473.34,497.30 473.57,497.30 473.81,497.30 474.04,497.30 474.27,497.30 474.51,497.30 474.74,497.30 474.98,464.63 475.21,464.63 475.44,464.63 475.68,497.30 475.91,497.30 476.14,497.30 476.38,497.30 476.61,497.30 476.84,497.30 477.08,497.30 477.31,464.63 477.55,464.63 477.78,464.63 478.01,464.63 478.25,464.63 478.48,464.63 478.71,497.30 478.95,497.30 479.18,497.30 479.42,464.63 479.65,464.63 479.88,497.30 480.12,464.63 480.35,497.30 480.58,497.30 480.82,497.30 481.05,497.30 481.29,497.30 481.52,464.63 481.75,464.63 481.99,497.30 482.22,497.30 482.45,431.78 482.69,464.63 482.92,464.63 483.15,464.63 483.39,464.63 483.62,464.63 483.86,464.63 484.09,497.30 484.32,464.63 484.56,464.63 484.79,464.63 485.02,464.63 485.26,464.63 485.49,464.63 485.73,464.63 485.96,497.30 486.19,497.30 486.43,497.30 486.66,497.30 486.89,497.30 487.13,497.30 487.36,497.30 487.60,464.63 487.83,464.63 488.06,464.63 488.30,497.30 488.53,497.30 488.76,497.30 489.00,497.30 489.23,497.30 489.46,497.30 489.70,497.30 489.93,497.30 490.17,497.30 490.40,497.30 490.63,497.30 490.87,497.30 491.10,497.30 491.33,497.30 491.57,497.30 491.80,497.30 492.04,497.30 492.27,497.30 492.50,497.30 492.74,497.30 492.97,497.30 493.20,497.30 493.44,497.30 493.67,497.30 493.91,497.30 494.14,497.30 494.37,497.30 494.61,497.30 494.84,497.30 495.07,497.30 495.31,497.30 495.54,497.30 495.77,497.30 496.01,497.30 496.24,497.30 496.48,497.30 496.71,497.30 496.94,497.30 497.18,497.30 497.41,497.30 497.64,497.30 497.88,464.63 498.11,497.30 498.35,497.30 498.58,497.30 498.81,464.63 499.05,464.63 499.28,464.63 499.51,464.63 499.75,497.30 499.98,497.30 500.21,497.30 500.45,464.63 500.68,464.63 500.92,464.63 501.15,464.63 501.38,464.63 501.62,497.30 501.85,497.30 502.08,497.30 502.32,464.63 502.55,497.30 502.79,497.30 503.02,497.30 503.25,497.30 503.49,497.30 503.72,497.30 503.95,497.30 504.19,497.30 504.42,497.30 504.66,497.30 504.89,497.30 505.12,497.30 505.36,497.30 505.59,497.30 505.82,497.30 506.06,497.30 506.29,497.30 506.52,497.30 506.76,497.30 506.99,497.30 507.23,497.30 507.46,497.30 507.69,497.30 507.93,497.30 508.16,497.30 508.39,497.30 508.63,464.63 508.86,464.63 509.10,497.30 509.33,497.30 509.56,497.30 509.80,497.30 510.03,497.30 510.26,497.30 510.50,497.30 510.73,497.30 510.97,464.63 511.20,464.63 511.43,497.30 511.67,497.30 511.90,497.30 512.13,497.30 512.37,464.63 512.60,497.30 512.83,464.63 513.07,464.63 513.30,464.63 513.54,464.63 513.77,497.30 514.00,464.63 514.24,464.63 514.47,464.63 514.70,464.63 514.94,464.63 515.17,464.63 515.41,464.63 515.64,464.63 515.87,464.63 516.11,497.30 516.34,497.30 516.57,497.30 516.81,464.63 517.04,464.63 517.28,464.63 517.51,464.63 517.74,431.78 517.98,464.63 518.21,464.63 518.44,497.30 518.68,497.30 518.91,497.30 519.14,497.30 519.38,497.30 519.61,497.30 519.85,497.30 520.08,497.30 520.31,497.30 520.55,497.30 520.78,497.30 521.01,497.30 521.25,497.30 521.48,497.30 521.72,497.30 521.95,497.30 522.18,497.30 522.42,497.30 522.65,431.78 522.88,497.30 523.12,497.30 523.35,497.30 523.58,497.30 523.82,497.30 524.05,464.63 524.29,464.63 524.52,464.63 524.75,497.30 524.99,464.63 525.22,497.30 525.45,497.30 525.69,497.30 525.92,497.30 526.16,497.30 526.39,497.30 526.62,497.30 526.86,497.30 527.09,497.30 527.32,497.30 527.56,497.30 527.79,497.30 528.03,497.30 528.26,497.30 528.49,497.30 528.73,497.30 528.96,497.30 529.19,497.30 529.43,497.30 529.66,497.30 529.89,497.30 530.13,497.30 530.36,497.30 530.60,497.30 530.83,464.63 531.06,464.63 531.30,464.63 531.53,464.63 531.76,431.78 532.00,464.63 532.23,464.63 532.47,464.63 532.70,464.63 532.93,497.30 533.17,497.30 533.40,497.30 533.63,497.30 533.87,497.30 534.10,497.30 534.34,497.30 534.57,497.30 534.80,497.30 535.04,497.30 535.27,497.30 535.50,497.30 535.74,497.30 535.97,497.30 536.20,497.30 536.44,497.30 536.67,497.30 536.91,497.30 537.14,497.30 537.37,497.30 537.61,497.30 537.84,497.30 538.07,497.30 538.31,497.30 538.54,497.30 538.78,497.30 539.01,497.30 539.24,497.30 539.48,497.30 539.71,497.30 539.94,497.30 540.18,497.30 540.41,497.30 540.65,497.30 540.88,497.30 541.11,497.30 541.35,497.30 541.58,497.30 541.81,497.30 542.05,497.30 542.28,497.30 542.51,497.30 542.75,497.30 542.98,497.30 543.22,497.30 543.45,497.30 543.68,497.30"/>
<line x1="310.10" y1="497.30" x2="543.80" y2="497.30" stroke="#9a9a9a" stroke-width="0.8"/>
<polyline fill="none" stroke="#f23434" stroke-width="0.55" stroke-linejoin="miter" stroke-miterlimit="2"  points="310.22,440.35 310.45,440.35 310.68,440.35 310.92,440.35 311.15,440.35 311.39,440.35 311.62,497.30 311.85,497.30 312.09,497.30 312.32,497.30 312.55,497.30 312.79,383.40 313.02,497.30 313.25,383.40 313.49,497.30 313.72,383.40 313.96,497.30 314.19,383.40 314.42,497.30 314.66,383.40 314.89,497.30 315.12,440.35 315.36,440.35 315.59,497.30 315.83,440.35 316.06,497.30 316.29,440.35 316.53,440.35 316.76,440.35 316.99,440.35 317.23,440.35 317.46,440.35 317.70,440.35 317.93,440.35 318.16,440.35 318.40,440.35 318.63,440.35 318.86,440.35 319.10,440.35 319.33,440.35 319.56,440.35 319.80,497.30 320.03,497.30 320.27,440.35 320.50,440.35 320.73,440.35 320.97,440.35 321.20,440.35 321.43,440.35 321.67,440.35 321.90,497.30 322.14,440.35 322.37,497.30 322.60,497.30 322.84,497.30 323.07,497.30 323.30,497.30 323.54,497.30 323.77,497.30 324.01,497.30 324.24,497.30 324.47,497.30 324.71,497.30 324.94,497.30 325.17,497.30 325.41,497.30 325.64,497.30 325.87,497.30 326.11,497.30 326.34,497.30 326.58,497.30 326.81,497.30 327.04,497.30 327.28,497.30 327.51,497.30 327.74,497.30 327.98,497.30 328.21,440.35 328.45,440.35 328.68,440.35 328.91,440.35 329.15,497.30 329.38,497.30 329.61,497.30 329.85,497.30 330.08,440.35 330.32,440.35 330.55,440.35 330.78,440.35 331.02,497.30 331.25,497.30 331.48,383.40 331.72,440.35 331.95,497.30 332.18,497.30 332.42,497.30 332.65,497.30 332.89,497.30 333.12,497.30 333.35,497.30 333.59,497.30 333.82,497.30 334.05,497.30 334.29,440.35 334.52,440.35 334.76,497.30 334.99,497.30 335.22,497.30 335.46,497.30 335.69,497.30 335.92,497.30 336.16,497.30 336.39,497.30 336.62,497.30 336.86,497.30 337.09,497.30 337.33,497.30 337.56,497.30 337.79,497.30 338.03,497.30 338.26,497.30 338.49,497.30 338.73,497.30 338.96,497.30 339.20,497.30 339.43,497.30 339.66,497.30 339.90,497.30 340.13,497.30 340.36,497.30 340.60,497.30 340.83,497.30 341.07,497.30 341.30,497.30 341.53,497.30 341.77,497.30 342.00,497.30 342.23,497.30 342.47,497.30 342.70,497.30 342.93,497.30 343.17,497.30 343.40,497.30 343.64,440.35 343.87,440.35 344.10,497.30 344.34,497.30 344.57,383.40 344.80,440.35 345.04,497.30 345.27,497.30 345.51,497.30 345.74,497.30 345.97,440.35 346.21,497.30 346.44,497.30 346.67,497.30 346.91,497.30 347.14,497.30 347.38,497.30 347.61,497.30 347.84,497.30 348.08,497.30 348.31,497.30 348.54,497.30 348.78,497.30 349.01,497.30 349.24,440.35 349.48,440.35 349.71,440.35 349.95,383.40 350.18,440.35 350.41,440.35 350.65,440.35 350.88,497.30 351.11,497.30 351.35,497.30 351.58,440.35 351.82,497.30 352.05,497.30 352.28,497.30 352.52,497.30 352.75,497.30 352.98,497.30 353.22,497.30 353.45,497.30 353.69,497.30 353.92,497.30 354.15,497.30 354.39,497.30 354.62,497.30 354.85,497.30 355.09,497.30 355.32,497.30 355.55,497.30 355.79,497.30 356.02,497.30 356.26,497.30 356.49,497.30 356.72,497.30 356.96,497.30 357.19,497.30 357.42,497.30 357.66,497.30 357.89,497.30 358.13,497.30 358.36,497.30 358.59,497.30 358.83,497.30 359.06,497.30 359.29,497.30 359.53,497.30 359.76,497.30 359.99,497.30 360.23,497.30 360.46,497.30 360.70,497.30 360.93,497.30 361.16,497.30 361.40,497.30 361.63,497.30 361.86,497.30 362.10,497.30 362.33,440.35 362.57,440.35 362.80,440.35 363.03,497.30 363.27,440.35 363.50,440.35 363.73,440.35 363.97,440.35 364.20,440.35 364.44,440.35 364.67,440.35 364.90,383.40 365.14,440.35 365.37,440.35 365.60,497.30 365.84,440.35 366.07,440.35 366.30,440.35 366.54,440.35 366.77,497.30 367.01,497.30 367.24,497.30 367.47,440.35 367.71,440.35 367.94,440.35 368.17,440.35 368.41,440.35 368.64,383.40 368.88,440.35 369.11,440.35 369.34,440.35 369.58,440.35 369.81,440.35 370.04,440.35 370.28,440.35 370.51,440.35 370.75,440.35 370.98,497.30 371.21,497.30 371.45,497.30 371.68,497.30 371.91,497.30 372.15,497.30 372.38,497.30 372.61,497.30 372.85,497.30 373.08,497.30 373.32,497.30 373.55,497.30 373.78,497.30 374.02,497.30 374.25,497.30 374.48,497.30 374.72,497.30 374.95,497.30 375.19,497.30 375.42,497.30 375.65,497.30 375.89,497.30 376.12,497.30 376.35,497.30 376.59,497.30 376.82,497.30 377.06,440.35 377.29,497.30 377.52,497.30 377.76,497.30 377.99,497.30 378.22,497.30 378.46,497.30 378.69,497.30 378.92,440.35 379.16,497.30 379.39,497.30 379.63,497.30 379.86,440.35 380.09,497.30 380.33,497.30 380.56,497.30 380.79,440.35 381.03,440.35 381.26,440.35 381.50,440.35 381.73,440.35 381.96,440.35 382.20,440.35 382.43,497.30 382.66,440.35 382.90,497.30 383.13,497.30 383.36,497.30 383.60,497.30 383.83,440.35 384.07,440.35 384.30,440.35 384.53,440.35 384.77,440.35 385.00,440.35 385.23,497.30 385.47,497.30 385.70,497.30 385.94,440.35 386.17,497.30 386.40,497.30 386.64,497.30 386.87,497.30 387.10,497.30 387.34,497.30 387.57,497.30 387.81,497.30 388.04,497.30 388.27,497.30 388.51,497.30 388.74,497.30 388.97,497.30 389.21,497.30 389.44,497.30 389.67,497.30 389.91,497.30 390.14,497.30 390.38,497.30 390.61,497.30 390.84,497.30 391.08,497.30 391.31,497.30 391.54,497.30 391.78,497.30 392.01,497.30 392.25,497.30 392.48,497.30 392.71,497.30 392.95,497.30 393.18,497.30 393.41,497.30 393.65,497.30 393.88,497.30 394.12,497.30 394.35,497.30 394.58,497.30 394.82,497.30 395.05,497.30 395.28,497.30 395.52,497.30 395.75,497.30 395.98,440.35 396.22,440.35 396.45,440.35 396.69,440.35 396.92,440.35 397.15,440.35 397.39,440.35 397.62,440.35 397.85,440.35 398.09,440.35 398.32,440.35 398.56,383.40 398.79,383.40 399.02,383.40 399.26,383.40 399.49,383.40 399.72,383.40 399.96,383.40 400.19,383.40 400.43,383.40 400.66,383.40 400.89,383.40 401.13,383.40 401.36,383.40 401.59,383.40 401.83,383.40 402.06,383.40 402.29,383.40 402.53,383.40 402.76,383.40 403.00,497.30 403.23,497.30 403.46,497.30 403.70,497.30 403.93,497.30 404.16,497.30 404.40,497.30 404.63,440.35 404.87,440.35 405.10,497.30 405.33,497.30 405.57,497.30 405.80,497.30 406.03,497.30 406.27,497.30 406.50,497.30 406.73,497.30 406.97,497.30 407.20,497.30 407.44,497.30 407.67,497.30 407.90,497.30 408.14,497.30 408.37,497.30 408.60,497.30 408.84,497.30 409.07,497.30 409.31,497.30 409.54,497.30 409.77,497.30 410.01,497.30 410.24,497.30 410.47,497.30 410.71,497.30 410.94,440.35 411.18,440.35 411.41,497.30 411.64,497.30 411.88,497.30 412.11,497.30 412.34,497.30 412.58,497.30 412.81,497.30 413.04,440.35 413.28,440.35 413.51,440.35 413.75,440.35 413.98,440.35 414.21,440.35 414.45,440.35 414.68,440.35 414.91,497.30 415.15,497.30 415.38,497.30 415.62,383.40 415.85,497.30 416.08,497.30 416.32,497.30 416.55,440.35 416.78,440.35 417.02,440.35 417.25,440.35 417.49,440.35 417.72,440.35 417.95,440.35 418.19,440.35 418.42,440.35 418.65,497.30 418.89,497.30 419.12,497.30 419.35,497.30 419.59,497.30 419.82,497.30 420.06,497.30 420.29,497.30 420.52,497.30 420.76,497.30 420.99,497.30 421.22,497.30 421.46,497.30 421.69,497.30 421.93,497.30 422.16,497.30 422.39,497.30 422.63,497.30 422.86,497.30 423.09,497.30 423.33,497.30 423.56,497.30 423.80,497.30 424.03,497.30 424.26,497.30 424.50,497.30 424.73,497.30 424.96,497.30 425.20,497.30 425.43,497.30 425.66,497.30 425.90,497.30 426.13,497.30 426.37,497.30 426.60,497.30 426.83,497.30 427.07,497.30 427.30,497.30 427.53,497.30 427.77,497.30 428.00,497.30 428.24,497.30 428.47,497.30 428.70,497.30 428.94,497.30 429.17,497.30 429.40,497.30 429.64,497.30 429.87,497.30 430.10,440.35 430.34,440.35 430.57,497.30 430.81,440.35 431.04,440.35 431.27,497.30 431.51,497.30 431.74,497.30 431.97,497.30 432.21,497.30 432.44,440.35 432.68,497.30 432.91,497.30 433.14,440.35 433.38,440.35 433.61,440.35 433.84,497.30 434.08,440.35 434.31,440.35 434.55,440.35 434.78,440.35 435.01,440.35 435.25,440.35 435.48,440.35 435.71,383.40 435.95,497.30 436.18,497.30 436.41,440.35 436.65,497.30 436.88,497.30 437.12,497.30 437.35,440.35 437.58,440.35 437.82,440.35 438.05,440.35 438.28,440.35 438.52,440.35 438.75,440.35 438.99,440.35 439.22,440.35 439.45,440.35 439.69,497.30 439.92,497.30 440.15,497.30 440.39,440.35 440.62,440.35 440.86,440.35 441.09,440.35 441.32,440.35 441.56,440.35 441.79,440.35 442.02,440.35 442.26,440.35 442.49,440.35 442.72,440.35 442.96,497.30 443.19,497.30 443.43,440.35 443.66,497.30 443.89,497.30 444.13,497.30 444.36,497.30 444.59,497.30 444.83,497.30 445.06,440.35 445.30,440.35 445.53,497.30 445.76,497.30 446.00,497.30 446.23,497.30 446.46,497.30 446.70,497.30 446.93,497.30 447.17,497.30 447.40,497.30 447.63,497.30 447.87,440.35 448.10,440.35 448.33,440.35 448.57,440.35 448.80,440.35 449.03,497.30 449.27,497.30 449.50,440.35 449.74,383.40 449.97,497.30 450.20,497.30 450.44,497.30 450.67,440.35 450.90,497.30 451.14,497.30 451.37,497.30 451.61,497.30 451.84,497.30 452.07,497.30 452.31,497.30 452.54,497.30 452.77,440.35 453.01,440.35 453.24,440.35 453.47,440.35 453.71,440.35 453.94,440.35 454.18,440.35 454.41,440.35 454.64,440.35 454.88,440.35 455.11,440.35 455.34,497.30 455.58,497.30 455.81,497.30 456.05,497.30 456.28,497.30 456.51,497.30 456.75,497.30 456.98,497.30 457.21,497.30 457.45,497.30 457.68,497.30 457.92,497.30 458.15,497.30 458.38,497.30 458.62,497.30 458.85,497.30 459.08,497.30 459.32,497.30 459.55,497.30 459.78,497.30 460.02,497.30 460.25,497.30 460.49,497.30 460.72,497.30 460.95,497.30 461.19,497.30 461.42,497.30 461.65,497.30 461.89,497.30 462.12,497.30 462.36,497.30 462.59,497.30 462.82,497.30 463.06,497.30 463.29,497.30 463.52,497.30 463.76,497.30 463.99,440.35 464.23,440.35 464.46,440.35 464.69,440.35 464.93,440.35 465.16,440.35 465.39,440.35 465.63,440.35 465.86,440.35 466.09,440.35 466.33,440.35 466.56,497.30 466.80,497.30 467.03,497.30 467.26,497.30 467.50,440.35 467.73,497.30 467.96,497.30 468.20,497.30 468.43,497.30 468.67,497.30 468.90,497.30 469.13,497.30 469.37,497.30 469.60,497.30 469.83,497.30 470.07,497.30 470.30,497.30 470.54,497.30 470.77,497.30 471.00,497.30 471.24,497.30 471.47,497.30 471.70,497.30 471.94,497.30 472.17,497.30 472.40,497.30 472.64,497.30 472.87,497.30 473.11,497.30 473.34,497.30 473.57,497.30 473.81,497.30 474.04,497.30 474.27,497.30 474.51,497.30 474.74,497.30 474.98,440.35 475.21,440.35 475.44,440.35 475.68,497.30 475.91,497.30 476.14,497.30 476.38,497.30 476.61,497.30 476.84,497.30 477.08,497.30 477.31,440.35 477.55,440.35 477.78,440.35 478.01,440.35 478.25,440.35 478.48,440.35 478.71,497.30 478.95,497.30 479.18,497.30 479.42,440.35 479.65,440.35 479.88,497.30 480.12,440.35 480.35,497.30 480.58,497.30 480.82,497.30 481.05,497.30 481.29,497.30 481.52,440.35 481.75,440.35 481.99,497.30 482.22,497.30 482.45,383.40 482.69,440.35 482.92,440.35 483.15,440.35 483.39,440.35 483.62,440.35 483.86,440.35 484.09,497.30 484.32,440.35 484.56,440.35 484.79,440.35 485.02,440.35 485.26,440.35 485.49,440.35 485.73,440.35 485.96,497.30 486.19,497.30 486.43,497.30 486.66,497.30 486.89,497.30 487.13,497.30 487.36,497.30 487.60,440.35 487.83,440.35 488.06,440.35 488.30,497.30 488.53,497.30 488.76,497.30 489.00,497.30 489.23,497.30 489.46,497.30 489.70,497.30 489.93,497.30 490.17,497.30 490.40,497.30 490.63,497.30 490.87,497.30 491.10,497.30 491.33,497.30 491.57,497.30 491.80,497.30 492.04,497.30 492.27,497.30 492.50,497.30 492.74,497.30 492.97,497.30 493.20,497.30 493.44,497.30 493.67,497.30 493.91,497.30 494.14,497.30 494.37,497.30 494.61,497.30 494.84,497.30 495.07,497.30 495.31,497.30 495.54,497.30 495.77,497.30 496.01,497.30 496.24,497.30 496.48,497.30 496.71,497.30 496.94,497.30 497.18,497.30 497.41,497.30 497.64,497.30 497.88,440.35 498.11,497.30 498.35,497.30 498.58,497.30 498.81,440.35 499.05,440.35 499.28,440.35 499.51,440.35 499.75,497.30 499.98,497.30 500.21,497.30 500.45,440.35 500.68,440.35 500.92,440.35 501.15,440.35 501.38,440.35 501.62,497.30 501.85,497.30 502.08,497.30 502.32,440.35 502.55,497.30 502.79,497.30 503.02,497.30 503.25,497.30 503.49,497.30 503.72,497.30 503.95,497.30 504.19,497.30 504.42,497.30 504.66,497.30 504.89,497.30 505.12,497.30 505.36,497.30 505.59,497.30 505.82,497.30 506.06,497.30 506.29,497.30 506.52,497.30 506.76,497.30 506.99,497.30 507.23,497.30 507.46,497.30 507.69,497.30 507.93,497.30 508.16,497.30 508.39,497.30 508.63,440.35 508.86,440.35 509.10,497.30 509.33,497.30 509.56,497.30 509.80,497.30 510.03,497.30 510.26,497.30 510.50,497.30 510.73,497.30 510.97,440.35 511.20,440.35 511.43,497.30 511.67,497.30 511.90,497.30 512.13,497.30 512.37,440.35 512.60,497.30 512.83,440.35 513.07,440.35 513.30,440.35 513.54,440.35 513.77,497.30 514.00,440.35 514.24,440.35 514.47,440.35 514.70,440.35 514.94,440.35 515.17,440.35 515.41,440.35 515.64,440.35 515.87,440.35 516.11,497.30 516.34,497.30 516.57,497.30 516.81,440.35 517.04,440.35 517.28,440.35 517.51,440.35 517.74,383.40 517.98,440.35 518.21,440.35 518.44,497.30 518.68,497.30 518.91,497.30 519.14,497.30 519.38,497.30 519.61,497.30 519.85,497.30 520.08,497.30 520.31,497.30 520.55,497.30 520.78,497.30 521.01,497.30 521.25,497.30 521.48,497.30 521.72,497.30 521.95,497.30 522.18,497.30 522.42,497.30 522.65,383.40 522.88,497.30 523.12,497.30 523.35,497.30 523.58,497.30 523.82,497.30 524.05,440.35 524.29,440.35 524.52,440.35 524.75,497.30 524.99,440.35 525.22,497.30 525.45,497.30 525.69,497.30 525.92,497.30 526.16,497.30 526.39,497.30 526.62,497.30 526.86,497.30 527.09,497.30 527.32,497.30 527.56,497.30 527.79,497.30 528.03,497.30 528.26,497.30 528.49,497.30 528.73,497.30 528.96,497.30 529.19,497.30 529.43,497.30 529.66,497.30 529.89,497.30 530.13,497.30 530.36,497.30 530.60,497.30 530.83,440.35 531.06,440.35 531.30,440.35 531.53,440.35 531.76,383.40 532.00,440.35 532.23,440.35 532.47,440.35 532.70,440.35 532.93,497.30 533.17,497.30 533.40,497.30 533.63,497.30 533.87,497.30 534.10,497.30 534.34,497.30 534.57,497.30 534.80,497.30 535.04,497.30 535.27,497.30 535.50,497.30 535.74,497.30 535.97,497.30 536.20,497.30 536.44,497.30 536.67,497.30 536.91,497.30 537.14,497.30 537.37,497.30 537.61,497.30 537.84,497.30 538.07,497.30 538.31,497.30 538.54,497.30 538.78,497.30 539.01,497.30 539.24,497.30 539.48,497.30 539.71,497.30 539.94,497.30 540.18,497.30 540.41,497.30 540.65,497.30 540.88,497.30 541.11,497.30 541.35,497.30 541.58,497.30 541.81,497.30 542.05,497.30 542.28,497.30 542.51,497.30 542.75,497.30 542.98,497.30 543.22,497.30 543.45,497.30 543.68,497.30"/>
<rect x="369.50" y="360.00" width="81.40" height="10.20" fill="#fff" stroke="#8c8c8c" stroke-width="0.8"/>
<line x1="375.70" y1="365.10" x2="383.70" y2="365.10" stroke="#3a3a3a" stroke-width="0.90"/>
<text class="lg" transform="translate(384.50,367.60) scale(1,1.1)">value</text>
<line x1="404.50" y1="365.10" x2="412.70" y2="365.10" stroke="#ff6a6a" stroke-width="1.1"/>
<text class="lg" transform="translate(413.50,367.60) scale(1,1.1)">bit pack size</text>
<text class="cap" x="280.2" y="174.9">(a) raw data(Delta)</text>
<text class="cap" x="280.7" y="352.7">(b) Sprintz(Delta)</text>
<text class="cap" x="280.2" y="532.7">(c) BDC(Delta)</text>
</svg></body></html>
